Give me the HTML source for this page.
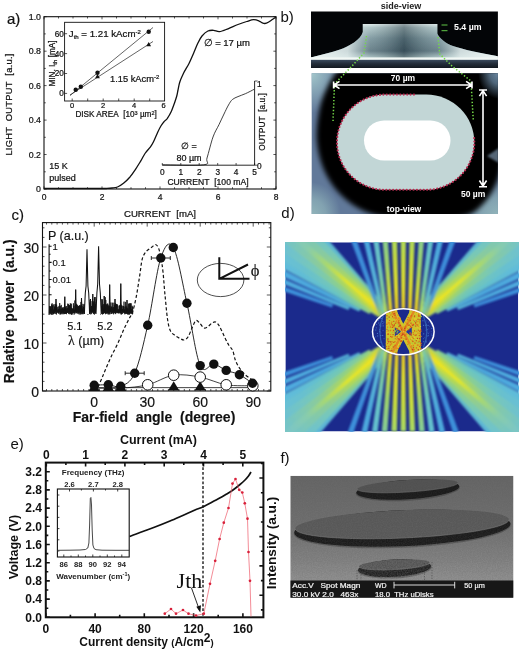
<!DOCTYPE html>
<html><head><meta charset="utf-8"><title>Figure</title>
<style>
html,body{margin:0;padding:0;background:#fff;}
body{width:520px;height:651px;overflow:hidden;}
svg{display:block;font-family:"Liberation Sans",sans-serif;filter:blur(0.35px);}
.s{font-family:"Liberation Serif",serif;}
.b{font-weight:bold;}
#pa text{stroke:#111;stroke-width:.22px;}
#pc text{stroke:#111;stroke-width:.15px;}
</style></head><body>
<svg width="520" height="651" viewBox="0 0 520 651">
<rect width="520" height="651" fill="#fff"/>
<g id="pa">
<text x="7" y="24" font-size="15" text-anchor="start" fill="#111">a)</text>
<rect x="44" y="16.7" width="232" height="172.3" fill="none" stroke="#111" stroke-width="1.1"/>
<path d="M44.0,189v-2.6M44.0,16.7v2.6M58.5,189v-1.8M58.5,16.7v1.8M73.0,189v-1.8M73.0,16.7v1.8M87.5,189v-1.8M87.5,16.7v1.8M102.0,189v-2.6M102.0,16.7v2.6M116.5,189v-1.8M116.5,16.7v1.8M131.0,189v-1.8M131.0,16.7v1.8M145.5,189v-1.8M145.5,16.7v1.8M160.0,189v-2.6M160.0,16.7v2.6M174.5,189v-1.8M174.5,16.7v1.8M189.0,189v-1.8M189.0,16.7v1.8M203.5,189v-1.8M203.5,16.7v1.8M218.0,189v-2.6M218.0,16.7v2.6M232.5,189v-1.8M232.5,16.7v1.8M247.0,189v-1.8M247.0,16.7v1.8M261.5,189v-1.8M261.5,16.7v1.8M276.0,189v-2.6M276.0,16.7v2.6M44,189.0h2.6M276,189.0h-2.6M44,171.8h1.8M276,171.8h-1.8M44,154.5h2.6M276,154.5h-2.6M44,137.3h1.8M276,137.3h-1.8M44,120.1h2.6M276,120.1h-2.6M44,102.8h1.8M276,102.8h-1.8M44,85.6h2.6M276,85.6h-2.6M44,68.4h1.8M276,68.4h-1.8M44,51.2h2.6M276,51.2h-2.6M44,33.9h1.8M276,33.9h-1.8M44,16.7h2.6M276,16.7h-2.6" stroke="#111" stroke-width="0.7" fill="none"/>
<text x="41" y="192.2" font-size="8.8" text-anchor="end" fill="#111">0</text>
<text x="41" y="157.7" font-size="8.8" text-anchor="end" fill="#111">0.2</text>
<text x="41" y="123.3" font-size="8.8" text-anchor="end" fill="#111">0.4</text>
<text x="41" y="88.8" font-size="8.8" text-anchor="end" fill="#111">0.6</text>
<text x="41" y="54.4" font-size="8.8" text-anchor="end" fill="#111">0.8</text>
<text x="41" y="19.9" font-size="8.8" text-anchor="end" fill="#111">1.0</text>
<text x="44.0" y="199.6" font-size="8.5" text-anchor="middle" fill="#111">0</text>
<text x="102.0" y="199.6" font-size="8.5" text-anchor="middle" fill="#111">2</text>
<text x="160.0" y="199.6" font-size="8.5" text-anchor="middle" fill="#111">4</text>
<text x="218.0" y="199.6" font-size="8.5" text-anchor="middle" fill="#111">6</text>
<text x="276.0" y="199.6" font-size="8.5" text-anchor="middle" fill="#111">8</text>
<text x="12.3" y="104.6" font-size="9.3" text-anchor="middle" fill="#111" transform="rotate(-90 12.3 104.6)" textLength="102" lengthAdjust="spacing">LIGHT&#160; OUTPUT&#160; [a.u.]</text>
<svg x="100" y="205" width="120" height="12.5" viewBox="100 205 120 12.5" overflow="hidden"><text x="160" y="217.3" font-size="9.6" text-anchor="middle" fill="#111">CURRENT&#160; [mA]</text>
</svg>
<path d="M44.0,188.5C53.3,188.5 89.5,188.5 100.0,188.5C110.5,188.5 105.0,188.5 107.0,188.4C109.0,188.3 110.5,188.2 112.2,188.0C114.0,187.8 115.6,187.8 117.5,187.0C119.4,186.2 121.7,184.7 123.8,183.0C125.9,181.3 128.2,179.0 130.2,176.7C132.1,174.4 133.7,171.9 135.5,169.3C137.3,166.7 139.2,163.5 140.8,160.9C142.4,158.3 143.4,155.8 145.0,153.5C146.6,151.2 148.9,149.0 150.3,147.1C151.7,145.2 152.3,144.3 153.5,141.8C154.7,139.3 156.5,134.9 157.7,132.3C158.9,129.7 159.8,127.8 160.9,126.0C162.0,124.2 162.9,122.9 164.0,121.7C165.1,120.5 166.0,120.3 167.2,118.6C168.4,116.8 170.2,113.8 171.4,111.2C172.6,108.6 173.7,105.2 174.6,102.7C175.5,100.2 176.1,98.4 176.7,96.3C177.3,94.2 177.5,92.4 178.0,90.0C178.5,87.6 178.9,84.8 179.8,82.0C180.7,79.2 181.9,76.6 183.4,73.5C184.9,70.4 187.3,66.8 189.0,63.5C190.7,60.1 192.0,56.8 193.5,53.4C195.0,50.0 196.4,46.2 197.8,43.3C199.2,40.4 200.3,38.0 202.0,36.0C203.7,34.0 206.0,31.9 207.9,31.0C209.8,30.1 211.7,30.2 213.6,30.3C215.5,30.4 217.0,31.9 219.4,31.7C221.8,31.4 224.9,30.0 228.0,28.8C231.1,27.6 234.9,25.7 238.0,24.5C241.1,23.3 244.1,22.3 246.7,21.5C249.3,20.7 251.5,19.7 253.5,19.6C255.5,19.5 257.4,20.3 258.8,20.9C260.2,21.4 261.2,22.5 262.2,22.9C263.2,23.3 263.9,23.6 264.9,23.5C265.9,23.4 267.1,22.9 268.3,22.2C269.5,21.5 271.0,20.4 272.3,19.5C273.6,18.6 275.4,17.4 276.0,17.0" fill="none" stroke="#111" stroke-width="1.3"/>
<rect x="64.6" y="22.3" width="100" height="78.7" fill="#fff" stroke="#111" stroke-width="0.9"/>
<path d="M72.2,101v-2.5M87.7,101v-2.5M103.2,101v-2.5M118.7,101v-2.5M134.2,101v-2.5M149.7,101v-2.5M64.6,93.4h2.5M64.6,73.5h2.5M64.6,53.6h2.5M64.6,33.7h2.5" stroke="#111" stroke-width="0.7" fill="none"/>
<path d="M70,95.5L153,27.5M70,95L153,41.5" stroke="#222" stroke-width="0.7" fill="none"/>
<circle cx="75.7" cy="89.7" r="2.2" fill="#111"/>
<circle cx="80.8" cy="86.7" r="2.2" fill="#111"/>
<circle cx="97.5" cy="72.7" r="2.2" fill="#111"/>
<circle cx="148.7" cy="31.7" r="2.2" fill="#111"/>
<path d="M95.1,78.3L99.9,78.3L97.5,73.9Z" fill="#111"/>
<path d="M146.29999999999998,46.3L151.1,46.3L148.7,41.9Z" fill="#111"/>
<text x="63.8" y="96.3" font-size="8.2" text-anchor="end" fill="#111">0</text>
<text x="63.8" y="76.4" font-size="8.2" text-anchor="end" fill="#111">20</text>
<text x="63.8" y="56.5" font-size="8.2" text-anchor="end" fill="#111">40</text>
<text x="63.8" y="36.6" font-size="8.2" text-anchor="end" fill="#111">60</text>
<text x="72.2" y="108.3" font-size="7.5" text-anchor="middle" fill="#111">0</text>
<text x="103.2" y="108.3" font-size="7.5" text-anchor="middle" fill="#111">2</text>
<text x="134.2" y="108.3" font-size="7.5" text-anchor="middle" fill="#111">4</text>
<text x="163.5" y="108.3" font-size="7.5" text-anchor="middle" fill="#111">6</text>
<text x="55.3" y="63.5" font-size="8.2" text-anchor="middle" fill="#111" transform="rotate(-90 55.3 63.5)">MIN. I<tspan font-size="6" dy="1.5">th</tspan><tspan dy="-1.5"> [mA]</tspan></text>
<text x="75.4" y="117" font-size="8.2" text-anchor="start" fill="#111">DISK AREA&#160; [10<tspan font-size="5.5" dy="-2.5">3</tspan><tspan dy="2.5"> µm</tspan><tspan font-size="5.5" dy="-2.5">2</tspan><tspan dy="2.5">]</tspan></text>
<text x="68.8" y="36.8" font-size="9.7" text-anchor="start" fill="#111">J<tspan font-size="6" dy="2">th</tspan><tspan dy="-2"> = 1.21 kAcm</tspan><tspan font-size="6" dy="-3">-2</tspan></text>
<text x="110" y="81.5" font-size="9.3" text-anchor="start" fill="#111">1.15 kAcm<tspan font-size="6" dy="-3">-2</tspan></text>
<text x="203.5" y="46" font-size="9.5" text-anchor="start" fill="#111">∅ = 17 µm</text>
<text x="49.3" y="168.5" font-size="9" text-anchor="start" fill="#111">15 K</text>
<text x="49.3" y="180.5" font-size="9" text-anchor="start" fill="#111">pulsed</text>
<path d="M162.3,165.2H254.6V81" stroke="#111" stroke-width="0.9" fill="none"/>
<path d="M162.3,165.2v-2.2M180.8,165.2v-2.2M199.2,165.2v-2.2M217.7,165.2v-2.2M236.1,165.2v-2.2M254.6,165.2v-2.2M254.6,81h3M254.6,165.2h3" stroke="#111" stroke-width="0.7" fill="none"/>
<text x="162.3" y="175" font-size="8.3" text-anchor="middle" fill="#111">0</text>
<text x="180.8" y="175" font-size="8.3" text-anchor="middle" fill="#111">1</text>
<text x="199.2" y="175" font-size="8.3" text-anchor="middle" fill="#111">2</text>
<text x="217.7" y="175" font-size="8.3" text-anchor="middle" fill="#111">3</text>
<text x="236.1" y="175" font-size="8.3" text-anchor="middle" fill="#111">4</text>
<text x="254.6" y="175" font-size="8.3" text-anchor="middle" fill="#111">5</text>
<text x="208" y="184.5" font-size="8.6" text-anchor="middle" fill="#111">CURRENT&#160; [100 mA]</text>
<text x="264.8" y="122" font-size="8.4" text-anchor="middle" fill="#111" transform="rotate(-90 264.8 122)">OUTPUT&#160; [a.u.]</text>
<text x="257" y="87" font-size="8.3" text-anchor="start" fill="#111">1</text>
<text x="257" y="169" font-size="8.3" text-anchor="start" fill="#111">0</text>
<text x="189" y="149" font-size="9" text-anchor="middle" fill="#111">∅ =</text>
<text x="189" y="161" font-size="9" text-anchor="middle" fill="#111">80 µm</text>
<path d="M162.3,164.8C169.2,164.8 196.4,165.9 203.8,164.8C211.2,163.7 205.5,162.6 207.0,158.0C208.5,153.4 211.0,142.6 213.0,137.0C215.0,131.4 217.2,128.4 219.0,124.6C220.8,120.8 222.4,117.3 224.0,114.0C225.6,110.7 227.1,107.4 228.5,105.0C229.9,102.6 230.8,100.9 232.4,99.5C234.0,98.1 235.8,97.6 238.0,96.6C240.2,95.6 242.7,94.9 245.4,93.7C248.1,92.5 252.6,90.1 254.0,89.4" fill="none" stroke="#111" stroke-width="0.8"/>
</g>
<g id="pb">
<defs>
<linearGradient id="bmesa" x1="0" y1="0" x2="0" y2="1"><stop offset="0" stop-color="#e4efee"/><stop offset="0.1" stop-color="#a9c0c2"/><stop offset="0.4" stop-color="#6b8790"/><stop offset="0.75" stop-color="#4a6470"/><stop offset="0.93" stop-color="#9db6b8"/><stop offset="1" stop-color="#f2f8f5"/></linearGradient>
<linearGradient id="bmesah" x1="0" y1="0" x2="1" y2="0"><stop offset="0" stop-color="#eef6f4" stop-opacity="1"/><stop offset="0.2" stop-color="#e4efee" stop-opacity="0.85"/><stop offset="0.32" stop-color="#cfe0e0" stop-opacity="0.25"/><stop offset="0.5" stop-color="#1a2a34" stop-opacity="0.4"/><stop offset="0.68" stop-color="#cfe0e0" stop-opacity="0.25"/><stop offset="0.8" stop-color="#e4efee" stop-opacity="0.85"/><stop offset="1" stop-color="#eef6f4" stop-opacity="1"/></linearGradient>
<linearGradient id="bband" x1="0" y1="0" x2="0" y2="1"><stop offset="0" stop-color="#3c4c60"/><stop offset="0.45" stop-color="#232d3a"/><stop offset="1" stop-color="#10151c"/></linearGradient>
<linearGradient id="btop" x1="0" y1="0" x2="0" y2="1"><stop offset="0" stop-color="#b9cbd0"/><stop offset="0.45" stop-color="#607985"/><stop offset="0.8" stop-color="#6f8893"/><stop offset="1" stop-color="#7d949d"/></linearGradient>
<radialGradient id="bcorner" cx="0.5" cy="0.5" r="0.5"><stop offset="0" stop-color="#a4c8cc" stop-opacity="1"/><stop offset="1" stop-color="#a4c8cc" stop-opacity="0"/></radialGradient>
<radialGradient id="bcorner3" cx="0.5" cy="0.5" r="0.5"><stop offset="0" stop-color="#6f8da6" stop-opacity="1"/><stop offset="0.45" stop-color="#5d7890" stop-opacity="0.85"/><stop offset="1" stop-color="#5d7890" stop-opacity="0"/></radialGradient>
<filter id="bl1" x="-20%" y="-20%" width="140%" height="140%"><feGaussianBlur stdDeviation="1.2"/></filter>
<radialGradient id="bcorner2" cx="0.5" cy="0.5" r="0.5"><stop offset="0" stop-color="#93b6bb" stop-opacity="1"/><stop offset="0.5" stop-color="#8aacb6" stop-opacity="0.8"/><stop offset="1" stop-color="#8aacb6" stop-opacity="0"/></radialGradient>
<filter id="bl2" x="-10%" y="-10%" width="120%" height="120%"><feGaussianBlur stdDeviation="2.6"/></filter>
<filter id="bl05" x="-10%" y="-10%" width="120%" height="120%"><feGaussianBlur stdDeviation="0.5"/></filter>
<clipPath id="bc1"><rect x="311" y="11.5" width="186.9" height="56.5"/></clipPath>
<clipPath id="bc2"><rect x="311.7" y="73.2" width="186.2" height="140.9"/></clipPath>
</defs>
<text x="280.5" y="21.8" font-size="15" text-anchor="start" fill="#111">b)</text>
<text x="401" y="9.2" font-size="9" text-anchor="middle" fill="#222" class="b">side-view</text>
<g clip-path="url(#bc1)">
<rect x="310" y="11" width="188" height="58" fill="#030507"/>
<g filter="url(#bl05)"><path d="M362.8,24H437.4V33.5C439,38 446,43.5 453,46C463,49.5 480,53 498,56.2V60H310V57.8C320,55 331,52.5 340,49.5C349,46.5 361,39.5 362.8,32Z" fill="url(#bmesa)"/><path d="M362.8,24H437.4V33.5C439,38 446,43.5 453,46C463,49.5 480,53 498,56.2V60H310V57.8C320,55 331,52.5 340,49.5C349,46.5 361,39.5 362.8,32Z" fill="url(#bmesah)"/></g>
<rect x="310" y="59.6" width="188" height="9" fill="url(#bband)"/>
<rect x="310" y="57.4" width="188" height="2.2" fill="#f2f8f5" filter="url(#bl05)"/>
<path d="M362.8,24.3H437.4" stroke="#f6fbf8" stroke-width="1.3" filter="url(#bl05)"/>
</g>
<g clip-path="url(#bc2)">
<rect x="310" y="72.6" width="189" height="143" fill="#61799a"/>
<ellipse cx="311" cy="73" rx="34" ry="40" fill="url(#bcorner)"/>
<ellipse cx="311" cy="216" rx="30" ry="34" fill="url(#bcorner2)"/>
<ellipse cx="499" cy="216" rx="40" ry="36" fill="url(#bcorner2)"/>
<path d="M316.8,140C316.1,130.0 317.9,118.5 319.5,110.0C321.1,101.5 323.2,95.8 326.5,89.0C329.8,82.2 333.4,74.7 339.0,69.0C344.6,63.3 348.2,58.5 360.0,55.0C371.8,51.5 391.7,48.5 410.0,48.0C428.3,47.5 455.0,47.5 470.0,52.0C485.0,56.5 494.0,63.7 500.0,75.0C506.0,86.3 505.5,105.8 506.0,120.0C506.5,134.2 504.8,149.0 503.0,160.0C501.2,171.0 498.5,178.5 495.0,186.0C491.5,193.5 487.0,200.0 482.0,205.0C477.0,210.0 473.7,213.3 465.0,216.0C456.3,218.7 441.7,220.5 430.0,221.0C418.3,221.5 406.0,220.7 395.0,219.0C384.0,217.3 373.2,215.2 364.0,211.0C354.8,206.8 346.7,200.8 340.0,194.0C333.3,187.2 327.9,179.0 324.0,170.0C320.1,161.0 317.6,150.0 316.8,140.0Z" fill="#020304" filter="url(#bl2)"/>
<ellipse cx="499" cy="72" rx="21" ry="27" fill="url(#bcorner3)"/>
<path d="M499,148L487,156L499,163Z" fill="#66798c" opacity="0.85" filter="url(#bl1)"/>
<rect x="337" y="94.6" width="137.3" height="95.2" rx="48" ry="47.6" fill="#c2d6d6" filter="url(#bl05)"/>
<rect x="364" y="120.5" width="86.5" height="40" rx="20" ry="20" fill="#fff" filter="url(#bl05)"/>
<path d="M414,94.6H385A48,47.6 0 0 0 385,189.8H426.3A48,47.6 0 0 0 473.8,135" fill="none" stroke="#b82c50" stroke-width="2.1" stroke-linecap="round" stroke-dasharray="0.1 3.3"/>
</g>
<path d="M366.5,36L364,53L352,66L334.5,84L333,122M438,37L439.7,54L452,66L471,81L473.3,121" stroke="#74d848" stroke-width="1.5" stroke-dasharray="1.4 1.9" fill="none"/>
<path d="M441.5,25h6M441.5,30.7h6" stroke="#62c848" stroke-width="1" fill="none"/>
<g stroke="#fff" stroke-width="1.6" fill="none"><path d="M335,85H471M334,85l5.5,-3.6M334,85l5.5,3.6M471.6,85l-5.5,-3.6M471.6,85l-5.5,3.6M333.6,81.5v7M472,81.5v7"/><path d="M483,91.5V185M483,90.6l-3.6,5.5M483,90.6l3.6,5.5M483,186l-3.6,-5.5M483,186l3.6,-5.5M479,90h8M479,186.8h8"/></g>
<text x="403" y="80.5" font-size="8.5" text-anchor="middle" fill="#fff" class="b">70 µm</text>
<text x="473.2" y="196.6" font-size="8.5" text-anchor="middle" fill="#fff" class="b">50 µm</text>
<text x="404" y="211.5" font-size="8.5" text-anchor="middle" fill="#fff" class="b">top-view</text>
<text x="454" y="30.4" font-size="8.8" text-anchor="start" fill="#fff" class="b">5.4 µm</text>
</g>
<g id="pd">
<text x="281.3" y="218.3" font-size="15" text-anchor="start" fill="#111">d)</text>
<defs>
<clipPath id="dc"><rect x="285.4" y="242.3" width="232.80000000000007" height="189.2"/></clipPath>
<radialGradient id="dgy" gradientUnits="userSpaceOnUse" cx="403.3" cy="331.8" r="150"><stop offset="0.16" stop-color="#f4c81c"/><stop offset="0.3" stop-color="#f2e41c"/><stop offset="0.5" stop-color="#dce430"/><stop offset="0.68" stop-color="#a8d870"/><stop offset="0.85" stop-color="#88ccac"/><stop offset="1" stop-color="#7cc6c4"/></radialGradient>
<radialGradient id="dgyg" gradientUnits="userSpaceOnUse" cx="403.3" cy="331.8" r="150"><stop offset="0.16" stop-color="#f0d020"/><stop offset="0.28" stop-color="#dce02c"/><stop offset="0.48" stop-color="#b0d858"/><stop offset="0.7" stop-color="#8ccc98"/><stop offset="1" stop-color="#74c4c8"/></radialGradient>
<radialGradient id="dgg" gradientUnits="userSpaceOnUse" cx="403.3" cy="331.8" r="150"><stop offset="0.16" stop-color="#e8d828"/><stop offset="0.3" stop-color="#b4d850"/><stop offset="0.5" stop-color="#8ed088"/><stop offset="0.72" stop-color="#78c8b8"/><stop offset="1" stop-color="#6cc0d4"/></radialGradient>
<radialGradient id="dgc" gradientUnits="userSpaceOnUse" cx="403.3" cy="331.8" r="150"><stop offset="0.16" stop-color="#c0dc48"/><stop offset="0.3" stop-color="#80cc98"/><stop offset="0.5" stop-color="#68c4c4"/><stop offset="0.8" stop-color="#60bcd8"/><stop offset="1" stop-color="#60bcdc"/></radialGradient>
<radialGradient id="dgc2" gradientUnits="userSpaceOnUse" cx="403.3" cy="331.8" r="150"><stop offset="0.16" stop-color="#d0dc40"/><stop offset="0.3" stop-color="#90d088"/><stop offset="0.5" stop-color="#74c8b4"/><stop offset="0.8" stop-color="#68c0d0"/><stop offset="1" stop-color="#68c0d8"/></radialGradient>
<radialGradient id="dglb" gradientUnits="userSpaceOnUse" cx="403.3" cy="331.8" r="150"><stop offset="0.2" stop-color="#78c8a8"/><stop offset="0.35" stop-color="#58b4d4"/><stop offset="0.6" stop-color="#4ca8dc"/><stop offset="1" stop-color="#52acdf"/></radialGradient>
<radialGradient id="dgb" gradientUnits="userSpaceOnUse" cx="403.3" cy="331.8" r="150"><stop offset="0.16" stop-color="#b0d050"/><stop offset="0.3" stop-color="#4c9cd0"/><stop offset="0.5" stop-color="#3c8cd8"/><stop offset="1" stop-color="#4096dc"/></radialGradient>
<radialGradient id="dgv" gradientUnits="userSpaceOnUse" cx="403.3" cy="331.8" r="150"><stop offset="0.16" stop-color="#f0cc20"/><stop offset="0.3" stop-color="#e4e028"/><stop offset="0.5" stop-color="#c4dc40"/><stop offset="0.68" stop-color="#a4d868"/><stop offset="1" stop-color="#8cd088"/></radialGradient>
<radialGradient id="dgv2" gradientUnits="userSpaceOnUse" cx="403.3" cy="331.8" r="150"><stop offset="0.16" stop-color="#f0cc20"/><stop offset="0.28" stop-color="#d0dc38"/><stop offset="0.45" stop-color="#a0d468"/><stop offset="0.68" stop-color="#84cc98"/><stop offset="1" stop-color="#78c8b8"/></radialGradient>
<filter id="dbl" x="-5%" y="-5%" width="110%" height="110%"><feGaussianBlur stdDeviation="0.8"/></filter>
<filter id="dbl2" x="-5%" y="-5%" width="110%" height="110%"><feGaussianBlur stdDeviation="0.5"/></filter>
</defs>
<g clip-path="url(#dc)">
<rect x="285.4" y="242.3" width="232.80000000000007" height="189.2" fill="#1b2a8c"/>
<g filter="url(#dbl)">
<polygon points="332.0,307.5 209.7,266.5 211.9,260.1 333.0,304.6" fill="url(#dgb)" opacity="1"/>
<polygon points="348.5,309.9 213.7,256.5 216.6,249.5 349.6,307.3" fill="url(#dglb)" opacity="1"/>
<polygon points="359.2,311.4 218.2,246.9 222.2,238.7 360.3,309.1" fill="url(#dglb)" opacity="1"/>
<polygon points="369.5,314.0 223.3,237.5 228.6,227.9 370.7,311.9" fill="url(#dgc)" opacity="1"/>
<polygon points="379.5,317.6 228.2,229.5 235.6,217.6 380.6,315.9" fill="url(#dgc2)" opacity="1"/>
<polygon points="380.8,316.5 234.4,220.3 242.9,208.4 381.9,314.9" fill="url(#dgg)" opacity="1"/>
<polygon points="382.1,315.5 241.7,210.8 250.1,200.3 383.3,313.9" fill="url(#dgyg)" opacity="1"/>
<polygon points="383.5,314.6 248.6,202.9 256.7,193.7 384.8,313.0" fill="url(#dgy)" opacity="1"/>
<polygon points="384.9,313.7 255.0,196.3 264.3,186.7 386.3,312.2" fill="url(#dgyg)" opacity="1"/>
<polygon points="386.5,312.9 262.5,189.2 271.4,180.8 387.9,311.5" fill="url(#dgg)" opacity="1"/>
<polygon points="381.4,304.7 270.7,182.4 275.3,178.3 383.0,303.3" fill="url(#dgc)" opacity="0.95"/>
<polygon points="333.0,359.0 211.9,403.5 209.7,397.1 332.0,356.1" fill="url(#dgb)" opacity="1"/>
<polygon points="349.6,356.3 216.6,414.1 213.7,407.1 348.5,353.7" fill="url(#dglb)" opacity="1"/>
<polygon points="360.3,354.5 222.2,424.9 218.2,416.7 359.2,352.2" fill="url(#dglb)" opacity="1"/>
<polygon points="370.7,351.7 228.6,435.7 223.3,426.1 369.5,349.6" fill="url(#dgc)" opacity="1"/>
<polygon points="380.6,347.7 235.6,446.0 228.2,434.1 379.5,346.0" fill="url(#dgc2)" opacity="1"/>
<polygon points="381.9,348.7 242.9,455.2 234.4,443.3 380.8,347.1" fill="url(#dgg)" opacity="1"/>
<polygon points="383.3,349.7 250.1,463.3 241.7,452.8 382.1,348.1" fill="url(#dgyg)" opacity="1"/>
<polygon points="384.8,350.6 256.7,469.9 248.6,460.7 383.5,349.0" fill="url(#dgy)" opacity="1"/>
<polygon points="386.3,351.4 264.3,476.9 255.0,467.3 384.9,349.9" fill="url(#dgyg)" opacity="1"/>
<polygon points="387.9,352.1 271.4,482.8 262.5,474.4 386.5,350.7" fill="url(#dgg)" opacity="1"/>
<polygon points="383.0,360.3 275.3,485.3 270.7,481.2 381.4,358.9" fill="url(#dgc)" opacity="0.95"/>
<polygon points="473.6,304.6 594.7,260.1 596.9,266.5 474.6,307.5" fill="url(#dgb)" opacity="1"/>
<polygon points="457.0,307.3 590.0,249.5 592.9,256.5 458.1,309.9" fill="url(#dglb)" opacity="1"/>
<polygon points="446.3,309.1 584.4,238.7 588.4,246.9 447.4,311.4" fill="url(#dglb)" opacity="1"/>
<polygon points="435.9,311.9 578.0,227.9 583.3,237.5 437.1,314.0" fill="url(#dgc)" opacity="1"/>
<polygon points="426.0,315.9 571.0,217.6 578.4,229.5 427.1,317.6" fill="url(#dgc2)" opacity="1"/>
<polygon points="424.7,314.9 563.7,208.4 572.2,220.3 425.8,316.5" fill="url(#dgg)" opacity="1"/>
<polygon points="423.3,313.9 556.5,200.3 564.9,210.8 424.5,315.5" fill="url(#dgyg)" opacity="1"/>
<polygon points="421.8,313.0 549.9,193.7 558.0,202.9 423.1,314.6" fill="url(#dgy)" opacity="1"/>
<polygon points="420.3,312.2 542.3,186.7 551.6,196.3 421.7,313.7" fill="url(#dgyg)" opacity="1"/>
<polygon points="418.7,311.5 535.2,180.8 544.1,189.2 420.1,312.9" fill="url(#dgg)" opacity="1"/>
<polygon points="423.6,303.3 531.3,178.3 535.9,182.4 425.2,304.7" fill="url(#dgc)" opacity="0.95"/>
<polygon points="474.6,356.1 596.9,397.1 594.7,403.5 473.6,359.0" fill="url(#dgb)" opacity="1"/>
<polygon points="458.1,353.7 592.9,407.1 590.0,414.1 457.0,356.3" fill="url(#dglb)" opacity="1"/>
<polygon points="447.4,352.2 588.4,416.7 584.4,424.9 446.3,354.5" fill="url(#dglb)" opacity="1"/>
<polygon points="437.1,349.6 583.3,426.1 578.0,435.7 435.9,351.7" fill="url(#dgc)" opacity="1"/>
<polygon points="427.1,346.0 578.4,434.1 571.0,446.0 426.0,347.7" fill="url(#dgc2)" opacity="1"/>
<polygon points="425.8,347.1 572.2,443.3 563.7,455.2 424.7,348.7" fill="url(#dgg)" opacity="1"/>
<polygon points="424.5,348.1 564.9,452.8 556.5,463.3 423.3,349.7" fill="url(#dgyg)" opacity="1"/>
<polygon points="423.1,349.0 558.0,460.7 549.9,469.9 421.8,350.6" fill="url(#dgy)" opacity="1"/>
<polygon points="421.7,349.9 551.6,467.3 542.3,476.9 420.3,351.4" fill="url(#dgyg)" opacity="1"/>
<polygon points="420.1,350.7 544.1,474.4 535.2,482.8 418.7,352.1" fill="url(#dgg)" opacity="1"/>
<polygon points="425.2,358.9 535.9,481.2 531.3,485.3 423.6,360.3" fill="url(#dgc)" opacity="0.95"/>
<polygon points="401.5,308.8 400.5,232.3 406.1,232.3 405.1,308.8" fill="url(#dgv)" opacity="1"/>
<polygon points="394.9,309.4 391.4,232.3 397.0,232.2 398.5,309.3" fill="url(#dgv)" opacity="1"/>
<polygon points="408.1,309.3 409.6,232.2 415.2,232.3 411.7,309.4" fill="url(#dgv)" opacity="1"/>
<polygon points="388.8,311.0 381.8,232.2 387.4,231.8 392.4,310.7" fill="url(#dgv2)" opacity="1"/>
<polygon points="414.2,310.7 419.2,231.8 424.8,232.2 417.8,311.0" fill="url(#dgv2)" opacity="1"/>
<polygon points="384.2,313.0 372.0,232.1 377.5,231.3 387.8,312.5" fill="url(#dgc)" opacity="1"/>
<polygon points="418.8,312.5 429.1,231.3 434.6,232.1 422.4,313.0" fill="url(#dgc)" opacity="1"/>
<polygon points="381.2,314.9 361.6,232.1 367.1,230.9 384.8,314.1" fill="url(#dglb)" opacity="1"/>
<polygon points="421.8,314.1 439.5,230.9 445.0,232.1 425.4,314.9" fill="url(#dglb)" opacity="1"/>
<polygon points="379.3,316.5 347.9,232.2 353.2,230.3 382.7,315.3" fill="url(#dgb)" opacity="1"/>
<polygon points="423.9,315.3 453.4,230.3 458.7,232.2 427.3,316.5" fill="url(#dgb)" opacity="1"/>
<polygon points="405.1,354.8 406.1,431.3 400.5,431.3 401.5,354.8" fill="url(#dgv)" opacity="1"/>
<polygon points="398.5,354.3 397.0,431.4 391.4,431.3 394.9,354.2" fill="url(#dgv)" opacity="1"/>
<polygon points="411.7,354.2 415.2,431.3 409.6,431.4 408.1,354.3" fill="url(#dgv)" opacity="1"/>
<polygon points="392.4,352.9 387.4,431.8 381.8,431.4 388.8,352.6" fill="url(#dgv2)" opacity="1"/>
<polygon points="417.8,352.6 424.8,431.4 419.2,431.8 414.2,352.9" fill="url(#dgv2)" opacity="1"/>
<polygon points="387.8,351.1 377.5,432.3 372.0,431.5 384.2,350.6" fill="url(#dgc)" opacity="1"/>
<polygon points="422.4,350.6 434.6,431.5 429.1,432.3 418.8,351.1" fill="url(#dgc)" opacity="1"/>
<polygon points="384.8,349.5 367.1,432.7 361.6,431.5 381.2,348.7" fill="url(#dglb)" opacity="1"/>
<polygon points="425.4,348.7 445.0,431.5 439.5,432.7 421.8,349.5" fill="url(#dglb)" opacity="1"/>
<polygon points="382.7,348.3 353.2,433.3 347.9,431.4 379.3,347.1" fill="url(#dgb)" opacity="1"/>
<polygon points="427.3,347.1 458.7,431.4 453.4,433.3 423.9,348.3" fill="url(#dgb)" opacity="1"/>
</g>
<clipPath id="dce"><ellipse cx="403.3" cy="331.8" rx="30.8" ry="23.0"/></clipPath>
<g clip-path="url(#dce)">
<ellipse cx="403.3" cy="331.8" rx="30.8" ry="23.0" fill="#1b2a8c"/>
<g filter="url(#dbl2)">
<path d="M383.3,315.8Q376.3,331.8 383.3,347.8M423.3,315.8Q430.3,331.8 423.3,347.8" stroke="#3a78c0" stroke-width="1.2" fill="none" opacity="0.7"/>
<rect x="385.8" y="306.8" width="11.5" height="50" fill="#cfc42c"/><rect x="409.3" y="306.8" width="11.5" height="50" fill="#cfc42c"/>
<path d="M392.3,310.8L414.3,352.8M414.3,310.8L392.3,352.8" stroke="#cfc42c" stroke-width="7.5"/>
<path d="M392.3,310.8L414.3,352.8M414.3,310.8L392.3,352.8" stroke="#e08a20" stroke-width="2.4"/>
<path d="M401.1,331.8L394.8,327.3V336.3ZM405.5,331.8L411.8,327.3V336.3Z" fill="#2438a0"/>
</g>
<g opacity="0.9"><rect x="393.3" y="333.8" width="1.2" height="1.2" fill="#9cc848"/><rect x="419.1" y="330.6" width="1.2" height="1.2" fill="#d04818"/><rect x="402.1" y="334.1" width="1.2" height="1.2" fill="#d85418"/><rect x="416.1" y="330.7" width="1.2" height="1.2" fill="#e88020"/><rect x="393.1" y="315.8" width="1.2" height="1.2" fill="#e8d030"/><rect x="413.8" y="316.1" width="1.2" height="1.2" fill="#e06018"/><rect x="395.7" y="310.2" width="1.2" height="1.2" fill="#e8b028"/><rect x="417.7" y="341.6" width="1.2" height="1.2" fill="#e07018"/><rect x="399.3" y="345.6" width="1.2" height="1.2" fill="#c03c20"/><rect x="409.8" y="344.6" width="1.2" height="1.2" fill="#e8b028"/><rect x="406.1" y="333.4" width="1.2" height="1.2" fill="#e07018"/><rect x="410.2" y="351.5" width="1.2" height="1.2" fill="#e8b028"/><rect x="390.5" y="348.4" width="1.2" height="1.2" fill="#e8d030"/><rect x="418.7" y="335.0" width="1.2" height="1.2" fill="#d85418"/><rect x="394.4" y="314.5" width="1.2" height="1.2" fill="#c03c20"/><rect x="416.7" y="354.3" width="1.2" height="1.2" fill="#d04818"/><rect x="418.4" y="309.7" width="1.2" height="1.2" fill="#e07018"/><rect x="413.5" y="348.9" width="1.2" height="1.2" fill="#e06018"/><rect x="407.3" y="343.8" width="1.2" height="1.2" fill="#e07018"/><rect x="411.6" y="324.0" width="1.2" height="1.2" fill="#e8b028"/><rect x="396.1" y="312.3" width="1.2" height="1.2" fill="#e8d030"/><rect x="399.8" y="336.9" width="1.2" height="1.2" fill="#e88020"/><rect x="410.5" y="353.9" width="1.2" height="1.2" fill="#9cc848"/><rect x="396.2" y="352.9" width="1.2" height="1.2" fill="#e07018"/><rect x="410.2" y="313.5" width="1.2" height="1.2" fill="#e8d030"/><rect x="394.6" y="338.0" width="1.2" height="1.2" fill="#d85418"/><rect x="419.9" y="328.9" width="1.2" height="1.2" fill="#e8b028"/><rect x="404.1" y="334.0" width="1.2" height="1.2" fill="#e06018"/><rect x="414.3" y="354.2" width="1.2" height="1.2" fill="#9cc848"/><rect x="410.1" y="325.0" width="1.2" height="1.2" fill="#e8b028"/><rect x="412.3" y="309.8" width="1.2" height="1.2" fill="#e06018"/><rect x="420.6" y="309.8" width="1.2" height="1.2" fill="#9cc848"/><rect x="393.8" y="329.8" width="1.2" height="1.2" fill="#9cc848"/><rect x="391.0" y="317.3" width="1.2" height="1.2" fill="#9cc848"/><rect x="416.4" y="321.0" width="1.2" height="1.2" fill="#e07018"/><rect x="388.3" y="346.2" width="1.2" height="1.2" fill="#e88020"/><rect x="396.1" y="319.0" width="1.2" height="1.2" fill="#e8b028"/><rect x="393.4" y="317.4" width="1.2" height="1.2" fill="#e07018"/><rect x="409.9" y="319.1" width="1.2" height="1.2" fill="#e88020"/><rect x="387.3" y="342.9" width="1.2" height="1.2" fill="#d85418"/><rect x="417.9" y="329.6" width="1.2" height="1.2" fill="#d85418"/><rect x="414.2" y="310.4" width="1.2" height="1.2" fill="#d85418"/><rect x="396.3" y="347.3" width="1.2" height="1.2" fill="#e88020"/><rect x="417.1" y="324.4" width="1.2" height="1.2" fill="#d04818"/><rect x="414.9" y="324.7" width="1.2" height="1.2" fill="#e88020"/><rect x="400.3" y="332.6" width="1.2" height="1.2" fill="#e8b028"/><rect x="402.0" y="338.0" width="1.2" height="1.2" fill="#e8b028"/><rect x="400.3" y="327.6" width="1.2" height="1.2" fill="#e07018"/><rect x="390.2" y="309.0" width="1.2" height="1.2" fill="#e8d030"/><rect x="419.5" y="319.0" width="1.2" height="1.2" fill="#c03c20"/><rect x="416.1" y="339.3" width="1.2" height="1.2" fill="#e8d030"/><rect x="418.1" y="348.4" width="1.2" height="1.2" fill="#e8b028"/><rect x="388.9" y="320.0" width="1.2" height="1.2" fill="#e06018"/><rect x="418.6" y="340.7" width="1.2" height="1.2" fill="#d85418"/><rect x="418.4" y="350.2" width="1.2" height="1.2" fill="#e06018"/><rect x="390.8" y="322.6" width="1.2" height="1.2" fill="#e06018"/><rect x="404.2" y="327.8" width="1.2" height="1.2" fill="#d04818"/><rect x="397.3" y="320.4" width="1.2" height="1.2" fill="#e8d030"/><rect x="397.7" y="317.9" width="1.2" height="1.2" fill="#e8d030"/><rect x="418.0" y="314.3" width="1.2" height="1.2" fill="#d85418"/><rect x="414.4" y="351.2" width="1.2" height="1.2" fill="#e88020"/><rect x="415.6" y="309.1" width="1.2" height="1.2" fill="#e07018"/><rect x="386.2" y="321.3" width="1.2" height="1.2" fill="#e8b028"/><rect x="386.2" y="323.7" width="1.2" height="1.2" fill="#e06018"/><rect x="416.9" y="344.5" width="1.2" height="1.2" fill="#e06018"/><rect x="389.0" y="311.9" width="1.2" height="1.2" fill="#e06018"/><rect x="416.8" y="312.8" width="1.2" height="1.2" fill="#e8d030"/><rect x="387.0" y="326.5" width="1.2" height="1.2" fill="#e07018"/><rect x="406.6" y="325.4" width="1.2" height="1.2" fill="#d85418"/><rect x="389.1" y="309.0" width="1.2" height="1.2" fill="#e07018"/><rect x="414.5" y="334.9" width="1.2" height="1.2" fill="#e06018"/><rect x="398.5" y="336.6" width="1.2" height="1.2" fill="#e8d030"/><rect x="398.8" y="345.7" width="1.2" height="1.2" fill="#e07018"/><rect x="386.3" y="337.7" width="1.2" height="1.2" fill="#9cc848"/><rect x="400.3" y="340.7" width="1.2" height="1.2" fill="#c03c20"/><rect x="394.6" y="335.9" width="1.2" height="1.2" fill="#e07018"/><rect x="392.8" y="314.8" width="1.2" height="1.2" fill="#e06018"/><rect x="419.9" y="326.0" width="1.2" height="1.2" fill="#e8d030"/><rect x="414.4" y="320.9" width="1.2" height="1.2" fill="#c03c20"/><rect x="410.5" y="352.0" width="1.2" height="1.2" fill="#e8d030"/><rect x="414.4" y="339.5" width="1.2" height="1.2" fill="#9cc848"/><rect x="389.8" y="344.4" width="1.2" height="1.2" fill="#e06018"/><rect x="404.3" y="334.8" width="1.2" height="1.2" fill="#e07018"/><rect x="391.1" y="309.9" width="1.2" height="1.2" fill="#d04818"/><rect x="395.1" y="322.6" width="1.2" height="1.2" fill="#d04818"/><rect x="388.4" y="343.3" width="1.2" height="1.2" fill="#e8d030"/><rect x="386.6" y="323.7" width="1.2" height="1.2" fill="#e88020"/><rect x="415.8" y="319.9" width="1.2" height="1.2" fill="#e88020"/><rect x="410.9" y="352.2" width="1.2" height="1.2" fill="#e8b028"/><rect x="398.3" y="327.0" width="1.2" height="1.2" fill="#9cc848"/><rect x="398.6" y="319.6" width="1.2" height="1.2" fill="#e07018"/><rect x="416.4" y="353.3" width="1.2" height="1.2" fill="#e07018"/><rect x="410.6" y="343.6" width="1.2" height="1.2" fill="#e8d030"/><rect x="410.4" y="316.0" width="1.2" height="1.2" fill="#e07018"/><rect x="418.4" y="315.7" width="1.2" height="1.2" fill="#d04818"/><rect x="403.2" y="331.0" width="1.2" height="1.2" fill="#e8d030"/><rect x="420.4" y="335.8" width="1.2" height="1.2" fill="#e88020"/><rect x="389.5" y="343.4" width="1.2" height="1.2" fill="#e88020"/><rect x="406.6" y="323.3" width="1.2" height="1.2" fill="#d85418"/><rect x="416.7" y="333.5" width="1.2" height="1.2" fill="#e8b028"/><rect x="409.8" y="348.1" width="1.2" height="1.2" fill="#e8b028"/><rect x="418.1" y="322.9" width="1.2" height="1.2" fill="#e8b028"/><rect x="402.5" y="326.4" width="1.2" height="1.2" fill="#e88020"/><rect x="400.2" y="340.9" width="1.2" height="1.2" fill="#d85418"/><rect x="415.5" y="334.4" width="1.2" height="1.2" fill="#c03c20"/><rect x="420.3" y="344.8" width="1.2" height="1.2" fill="#e06018"/><rect x="393.2" y="341.8" width="1.2" height="1.2" fill="#d04818"/><rect x="420.7" y="348.1" width="1.2" height="1.2" fill="#d85418"/><rect x="418.1" y="344.5" width="1.2" height="1.2" fill="#e88020"/><rect x="391.4" y="341.2" width="1.2" height="1.2" fill="#e06018"/><rect x="418.5" y="320.5" width="1.2" height="1.2" fill="#e06018"/><rect x="396.2" y="328.3" width="1.2" height="1.2" fill="#d04818"/><rect x="388.8" y="321.0" width="1.2" height="1.2" fill="#e8b028"/><rect x="412.2" y="324.3" width="1.2" height="1.2" fill="#e06018"/><rect x="397.0" y="328.9" width="1.2" height="1.2" fill="#c03c20"/><rect x="387.3" y="338.4" width="1.2" height="1.2" fill="#c03c20"/><rect x="399.2" y="333.8" width="1.2" height="1.2" fill="#d04818"/><rect x="417.9" y="312.3" width="1.2" height="1.2" fill="#e07018"/><rect x="388.6" y="349.6" width="1.2" height="1.2" fill="#e8b028"/><rect x="388.0" y="352.1" width="1.2" height="1.2" fill="#9cc848"/><rect x="410.1" y="325.7" width="1.2" height="1.2" fill="#c03c20"/><rect x="395.5" y="339.9" width="1.2" height="1.2" fill="#e8b028"/><rect x="388.4" y="352.2" width="1.2" height="1.2" fill="#9cc848"/><rect x="409.9" y="333.5" width="1.2" height="1.2" fill="#d04818"/><rect x="409.6" y="332.2" width="1.2" height="1.2" fill="#e06018"/><rect x="411.6" y="340.0" width="1.2" height="1.2" fill="#e88020"/><rect x="408.8" y="342.4" width="1.2" height="1.2" fill="#e88020"/><rect x="391.1" y="349.7" width="1.2" height="1.2" fill="#c03c20"/><rect x="389.0" y="351.7" width="1.2" height="1.2" fill="#e88020"/><rect x="419.3" y="338.5" width="1.2" height="1.2" fill="#e07018"/><rect x="405.4" y="338.6" width="1.2" height="1.2" fill="#c03c20"/><rect x="411.1" y="313.7" width="1.2" height="1.2" fill="#e88020"/><rect x="413.0" y="333.8" width="1.2" height="1.2" fill="#e07018"/><rect x="398.0" y="321.0" width="1.2" height="1.2" fill="#e07018"/><rect x="386.3" y="315.1" width="1.2" height="1.2" fill="#c03c20"/><rect x="413.5" y="325.1" width="1.2" height="1.2" fill="#9cc848"/><rect x="420.2" y="329.4" width="1.2" height="1.2" fill="#d04818"/><rect x="397.7" y="347.8" width="1.2" height="1.2" fill="#d04818"/><rect x="390.1" y="335.9" width="1.2" height="1.2" fill="#d04818"/><rect x="388.6" y="340.9" width="1.2" height="1.2" fill="#e07018"/><rect x="409.8" y="326.8" width="1.2" height="1.2" fill="#e88020"/><rect x="399.4" y="317.7" width="1.2" height="1.2" fill="#e8d030"/><rect x="390.8" y="317.0" width="1.2" height="1.2" fill="#e8b028"/><rect x="398.3" y="322.3" width="1.2" height="1.2" fill="#c03c20"/><rect x="418.2" y="352.5" width="1.2" height="1.2" fill="#e07018"/><rect x="396.3" y="350.5" width="1.2" height="1.2" fill="#e8b028"/><rect x="410.4" y="322.6" width="1.2" height="1.2" fill="#c03c20"/><rect x="413.0" y="319.6" width="1.2" height="1.2" fill="#e88020"/><rect x="404.2" y="330.0" width="1.2" height="1.2" fill="#d85418"/><rect x="414.0" y="318.5" width="1.2" height="1.2" fill="#e8d030"/><rect x="419.5" y="352.3" width="1.2" height="1.2" fill="#d04818"/><rect x="418.2" y="315.0" width="1.2" height="1.2" fill="#d04818"/><rect x="398.0" y="319.5" width="1.2" height="1.2" fill="#d04818"/><rect x="397.2" y="323.9" width="1.2" height="1.2" fill="#9cc848"/><rect x="410.7" y="315.0" width="1.2" height="1.2" fill="#e06018"/><rect x="411.5" y="342.8" width="1.2" height="1.2" fill="#9cc848"/><rect x="386.7" y="318.0" width="1.2" height="1.2" fill="#d85418"/><rect x="385.9" y="312.4" width="1.2" height="1.2" fill="#d85418"/><rect x="411.1" y="326.8" width="1.2" height="1.2" fill="#c03c20"/><rect x="410.9" y="333.5" width="1.2" height="1.2" fill="#e07018"/><rect x="392.2" y="331.3" width="1.2" height="1.2" fill="#e06018"/><rect x="418.5" y="341.9" width="1.2" height="1.2" fill="#9cc848"/><rect x="416.6" y="329.4" width="1.2" height="1.2" fill="#9cc848"/><rect x="407.0" y="319.1" width="1.2" height="1.2" fill="#e06018"/><rect x="414.9" y="320.7" width="1.2" height="1.2" fill="#9cc848"/><rect x="389.8" y="330.0" width="1.2" height="1.2" fill="#d85418"/><rect x="390.3" y="309.8" width="1.2" height="1.2" fill="#e07018"/><rect x="403.4" y="338.1" width="1.2" height="1.2" fill="#e88020"/><rect x="388.5" y="316.5" width="1.2" height="1.2" fill="#c03c20"/><rect x="391.3" y="347.5" width="1.2" height="1.2" fill="#e07018"/><rect x="401.3" y="327.6" width="1.2" height="1.2" fill="#e06018"/><rect x="393.4" y="310.6" width="1.2" height="1.2" fill="#c03c20"/><rect x="392.6" y="313.1" width="1.2" height="1.2" fill="#c03c20"/><rect x="391.5" y="324.1" width="1.2" height="1.2" fill="#d04818"/><rect x="397.5" y="314.5" width="1.2" height="1.2" fill="#e06018"/><rect x="415.0" y="322.2" width="1.2" height="1.2" fill="#c03c20"/><rect x="414.3" y="353.0" width="1.2" height="1.2" fill="#c03c20"/><rect x="393.8" y="321.0" width="1.2" height="1.2" fill="#9cc848"/><rect x="408.2" y="324.7" width="1.2" height="1.2" fill="#d04818"/><rect x="386.5" y="328.8" width="1.2" height="1.2" fill="#d04818"/><rect x="390.8" y="310.5" width="1.2" height="1.2" fill="#e06018"/><rect x="391.5" y="332.2" width="1.2" height="1.2" fill="#9cc848"/><rect x="391.9" y="353.6" width="1.2" height="1.2" fill="#c03c20"/><rect x="397.2" y="330.8" width="1.2" height="1.2" fill="#9cc848"/><rect x="420.0" y="310.4" width="1.2" height="1.2" fill="#e8b028"/><rect x="412.9" y="337.8" width="1.2" height="1.2" fill="#e07018"/><rect x="387.6" y="322.3" width="1.2" height="1.2" fill="#e07018"/><rect x="388.7" y="326.7" width="1.2" height="1.2" fill="#9cc848"/><rect x="417.2" y="326.5" width="1.2" height="1.2" fill="#e8d030"/><rect x="398.0" y="317.3" width="1.2" height="1.2" fill="#e07018"/><rect x="401.0" y="329.2" width="1.2" height="1.2" fill="#c03c20"/><rect x="397.4" y="346.6" width="1.2" height="1.2" fill="#e8d030"/><rect x="411.7" y="336.7" width="1.2" height="1.2" fill="#e07018"/><rect x="420.4" y="310.8" width="1.2" height="1.2" fill="#e88020"/><rect x="411.3" y="309.9" width="1.2" height="1.2" fill="#c03c20"/><rect x="387.8" y="340.6" width="1.2" height="1.2" fill="#d04818"/><rect x="396.5" y="336.4" width="1.2" height="1.2" fill="#e06018"/><rect x="417.7" y="348.9" width="1.2" height="1.2" fill="#c03c20"/><rect x="414.2" y="350.9" width="1.2" height="1.2" fill="#9cc848"/><rect x="387.4" y="338.7" width="1.2" height="1.2" fill="#d85418"/><rect x="410.5" y="353.8" width="1.2" height="1.2" fill="#e88020"/><rect x="393.0" y="353.3" width="1.2" height="1.2" fill="#d85418"/><rect x="416.6" y="332.5" width="1.2" height="1.2" fill="#e8d030"/><rect x="414.0" y="336.6" width="1.2" height="1.2" fill="#e8d030"/><rect x="414.0" y="330.3" width="1.2" height="1.2" fill="#d04818"/><rect x="385.9" y="345.9" width="1.2" height="1.2" fill="#e06018"/><rect x="416.9" y="313.5" width="1.2" height="1.2" fill="#e8b028"/><rect x="387.6" y="330.2" width="1.2" height="1.2" fill="#d85418"/><rect x="415.7" y="340.1" width="1.2" height="1.2" fill="#d04818"/><rect x="408.7" y="343.8" width="1.2" height="1.2" fill="#9cc848"/><rect x="399.6" y="339.2" width="1.2" height="1.2" fill="#d04818"/><rect x="395.4" y="352.3" width="1.2" height="1.2" fill="#c03c20"/><rect x="415.3" y="318.3" width="1.2" height="1.2" fill="#e8d030"/><rect x="408.7" y="324.5" width="1.2" height="1.2" fill="#d85418"/><rect x="400.4" y="338.6" width="1.2" height="1.2" fill="#e8d030"/><rect x="392.4" y="324.9" width="1.2" height="1.2" fill="#e06018"/><rect x="397.0" y="328.6" width="1.2" height="1.2" fill="#d04818"/><rect x="393.8" y="323.7" width="1.2" height="1.2" fill="#d85418"/><rect x="411.9" y="349.0" width="1.2" height="1.2" fill="#c03c20"/><rect x="419.7" y="333.4" width="1.2" height="1.2" fill="#e07018"/><rect x="398.3" y="317.6" width="1.2" height="1.2" fill="#e07018"/><rect x="419.3" y="322.2" width="1.2" height="1.2" fill="#e06018"/><rect x="391.3" y="313.2" width="1.2" height="1.2" fill="#e88020"/><rect x="395.5" y="332.7" width="1.2" height="1.2" fill="#c03c20"/><rect x="385.8" y="343.1" width="1.2" height="1.2" fill="#e8b028"/><rect x="414.0" y="315.4" width="1.2" height="1.2" fill="#c03c20"/><rect x="395.7" y="327.7" width="1.2" height="1.2" fill="#d04818"/><rect x="392.1" y="331.2" width="1.2" height="1.2" fill="#e8b028"/><rect x="417.6" y="325.9" width="1.2" height="1.2" fill="#e88020"/><rect x="392.8" y="352.8" width="1.2" height="1.2" fill="#e8b028"/><rect x="395.1" y="330.1" width="1.2" height="1.2" fill="#9cc848"/><rect x="415.0" y="322.5" width="1.2" height="1.2" fill="#d85418"/><rect x="419.6" y="332.7" width="1.2" height="1.2" fill="#e06018"/><rect x="389.3" y="333.2" width="1.2" height="1.2" fill="#e8d030"/><rect x="414.4" y="325.1" width="1.2" height="1.2" fill="#9cc848"/><rect x="391.3" y="309.4" width="1.2" height="1.2" fill="#e07018"/><rect x="418.7" y="347.2" width="1.2" height="1.2" fill="#e8d030"/><rect x="415.1" y="329.5" width="1.2" height="1.2" fill="#e8b028"/><rect x="393.7" y="345.7" width="1.2" height="1.2" fill="#e07018"/><rect x="411.8" y="324.4" width="1.2" height="1.2" fill="#e06018"/><rect x="400.6" y="337.7" width="1.2" height="1.2" fill="#e88020"/><rect x="419.0" y="346.0" width="1.2" height="1.2" fill="#d85418"/><rect x="420.5" y="343.0" width="1.2" height="1.2" fill="#e07018"/><rect x="405.3" y="321.7" width="1.2" height="1.2" fill="#e88020"/><rect x="386.0" y="331.1" width="1.2" height="1.2" fill="#e06018"/><rect x="418.4" y="350.5" width="1.2" height="1.2" fill="#c03c20"/><rect x="417.0" y="353.8" width="1.2" height="1.2" fill="#e8d030"/><rect x="400.0" y="332.6" width="1.2" height="1.2" fill="#e88020"/><rect x="395.5" y="312.2" width="1.2" height="1.2" fill="#e88020"/><rect x="399.8" y="325.0" width="1.2" height="1.2" fill="#c03c20"/><rect x="394.9" y="320.6" width="1.2" height="1.2" fill="#e8b028"/><rect x="420.8" y="315.9" width="1.2" height="1.2" fill="#9cc848"/><rect x="389.6" y="310.5" width="1.2" height="1.2" fill="#c03c20"/><rect x="416.6" y="346.9" width="1.2" height="1.2" fill="#e8b028"/><rect x="405.2" y="331.2" width="1.2" height="1.2" fill="#e8b028"/><rect x="414.1" y="343.5" width="1.2" height="1.2" fill="#e8b028"/><rect x="388.2" y="339.6" width="1.2" height="1.2" fill="#9cc848"/><rect x="412.9" y="346.8" width="1.2" height="1.2" fill="#c03c20"/><rect x="391.7" y="351.2" width="1.2" height="1.2" fill="#e88020"/><rect x="392.4" y="310.5" width="1.2" height="1.2" fill="#9cc848"/><rect x="396.4" y="326.9" width="1.2" height="1.2" fill="#e8b028"/><rect x="412.3" y="340.9" width="1.2" height="1.2" fill="#d04818"/><rect x="412.5" y="347.4" width="1.2" height="1.2" fill="#e06018"/><rect x="420.1" y="353.6" width="1.2" height="1.2" fill="#d04818"/><rect x="390.0" y="341.3" width="1.2" height="1.2" fill="#c03c20"/><rect x="409.9" y="338.6" width="1.2" height="1.2" fill="#e88020"/><rect x="399.2" y="317.1" width="1.2" height="1.2" fill="#e88020"/><rect x="396.1" y="338.6" width="1.2" height="1.2" fill="#e88020"/><rect x="417.5" y="311.0" width="1.2" height="1.2" fill="#e88020"/><rect x="404.6" y="326.4" width="1.2" height="1.2" fill="#d04818"/><rect x="388.7" y="322.4" width="1.2" height="1.2" fill="#e07018"/><rect x="387.2" y="317.6" width="1.2" height="1.2" fill="#9cc848"/><rect x="393.6" y="325.1" width="1.2" height="1.2" fill="#c03c20"/><rect x="388.2" y="347.8" width="1.2" height="1.2" fill="#c03c20"/><rect x="412.7" y="344.8" width="1.2" height="1.2" fill="#e07018"/><rect x="401.9" y="333.6" width="1.2" height="1.2" fill="#c03c20"/><rect x="390.0" y="329.8" width="1.2" height="1.2" fill="#e07018"/><rect x="391.9" y="336.1" width="1.2" height="1.2" fill="#e88020"/><rect x="395.7" y="348.3" width="1.2" height="1.2" fill="#e88020"/><rect x="396.3" y="347.4" width="1.2" height="1.2" fill="#e88020"/><rect x="386.3" y="353.8" width="1.2" height="1.2" fill="#e07018"/><rect x="407.6" y="317.0" width="1.2" height="1.2" fill="#e06018"/><rect x="390.3" y="314.4" width="1.2" height="1.2" fill="#e07018"/><rect x="387.8" y="333.7" width="1.2" height="1.2" fill="#c03c20"/><rect x="396.7" y="336.0" width="1.2" height="1.2" fill="#d85418"/><rect x="396.6" y="332.1" width="1.2" height="1.2" fill="#9cc848"/><rect x="408.5" y="336.0" width="1.2" height="1.2" fill="#9cc848"/><rect x="417.1" y="347.2" width="1.2" height="1.2" fill="#e8b028"/><rect x="391.2" y="336.5" width="1.2" height="1.2" fill="#d85418"/><rect x="412.1" y="324.5" width="1.2" height="1.2" fill="#d85418"/><rect x="395.0" y="353.3" width="1.2" height="1.2" fill="#c03c20"/><rect x="389.2" y="324.2" width="1.2" height="1.2" fill="#e88020"/><rect x="401.1" y="337.2" width="1.2" height="1.2" fill="#d04818"/><rect x="400.2" y="334.1" width="1.2" height="1.2" fill="#e8b028"/><rect x="386.6" y="348.1" width="1.2" height="1.2" fill="#e07018"/><rect x="392.3" y="312.2" width="1.2" height="1.2" fill="#e8d030"/><rect x="392.5" y="334.0" width="1.2" height="1.2" fill="#d04818"/><rect x="411.3" y="325.4" width="1.2" height="1.2" fill="#e8b028"/><rect x="398.4" y="325.9" width="1.2" height="1.2" fill="#c03c20"/><rect x="398.5" y="338.8" width="1.2" height="1.2" fill="#d04818"/><rect x="392.7" y="325.9" width="1.2" height="1.2" fill="#e06018"/><rect x="389.6" y="312.6" width="1.2" height="1.2" fill="#9cc848"/><rect x="396.2" y="329.2" width="1.2" height="1.2" fill="#9cc848"/><rect x="415.8" y="347.3" width="1.2" height="1.2" fill="#d85418"/><rect x="401.1" y="340.2" width="1.2" height="1.2" fill="#d04818"/><rect x="392.8" y="315.2" width="1.2" height="1.2" fill="#e8b028"/><rect x="395.2" y="317.5" width="1.2" height="1.2" fill="#e88020"/><rect x="391.3" y="321.4" width="1.2" height="1.2" fill="#e07018"/><rect x="392.0" y="338.0" width="1.2" height="1.2" fill="#e8b028"/><rect x="387.5" y="329.1" width="1.2" height="1.2" fill="#9cc848"/><rect x="386.8" y="309.2" width="1.2" height="1.2" fill="#c03c20"/><rect x="419.0" y="337.8" width="1.2" height="1.2" fill="#d04818"/><rect x="415.7" y="324.1" width="1.2" height="1.2" fill="#e07018"/><rect x="417.8" y="319.2" width="1.2" height="1.2" fill="#9cc848"/><rect x="392.0" y="326.8" width="1.2" height="1.2" fill="#d04818"/><rect x="386.3" y="332.6" width="1.2" height="1.2" fill="#e8d030"/><rect x="404.2" y="335.2" width="1.2" height="1.2" fill="#d04818"/><rect x="391.1" y="346.6" width="1.2" height="1.2" fill="#e8d030"/><rect x="399.3" y="324.6" width="1.2" height="1.2" fill="#c03c20"/><rect x="409.4" y="333.1" width="1.2" height="1.2" fill="#d85418"/><rect x="406.1" y="324.6" width="1.2" height="1.2" fill="#e88020"/><rect x="406.4" y="325.6" width="1.2" height="1.2" fill="#e8d030"/><rect x="397.8" y="344.2" width="1.2" height="1.2" fill="#e8d030"/><rect x="392.0" y="311.6" width="1.2" height="1.2" fill="#e07018"/><rect x="416.9" y="337.8" width="1.2" height="1.2" fill="#c03c20"/><rect x="417.4" y="318.7" width="1.2" height="1.2" fill="#d04818"/><rect x="419.9" y="314.3" width="1.2" height="1.2" fill="#e8d030"/><rect x="399.4" y="318.5" width="1.2" height="1.2" fill="#e88020"/><rect x="413.0" y="323.8" width="1.2" height="1.2" fill="#d85418"/><rect x="416.0" y="311.4" width="1.2" height="1.2" fill="#e07018"/><rect x="398.2" y="319.1" width="1.2" height="1.2" fill="#e8b028"/><rect x="393.8" y="320.9" width="1.2" height="1.2" fill="#9cc848"/><rect x="412.1" y="318.4" width="1.2" height="1.2" fill="#e8b028"/><rect x="401.1" y="334.8" width="1.2" height="1.2" fill="#d85418"/><rect x="415.1" y="325.6" width="1.2" height="1.2" fill="#d85418"/><rect x="391.0" y="343.3" width="1.2" height="1.2" fill="#e07018"/><rect x="407.0" y="328.3" width="1.2" height="1.2" fill="#e88020"/><rect x="408.2" y="329.1" width="1.2" height="1.2" fill="#e06018"/><rect x="387.3" y="333.5" width="1.2" height="1.2" fill="#c03c20"/><rect x="402.9" y="335.4" width="1.2" height="1.2" fill="#e8b028"/><rect x="404.0" y="328.1" width="1.2" height="1.2" fill="#c03c20"/><rect x="392.7" y="346.4" width="1.2" height="1.2" fill="#c03c20"/><rect x="411.5" y="324.4" width="1.2" height="1.2" fill="#e88020"/><rect x="402.5" y="333.6" width="1.2" height="1.2" fill="#c03c20"/><rect x="397.5" y="338.0" width="1.2" height="1.2" fill="#d04818"/><rect x="411.0" y="353.7" width="1.2" height="1.2" fill="#e8b028"/><rect x="406.5" y="340.0" width="1.2" height="1.2" fill="#e8b028"/><rect x="416.1" y="343.2" width="1.2" height="1.2" fill="#e8b028"/><rect x="419.4" y="328.3" width="1.2" height="1.2" fill="#e8d030"/><rect x="412.2" y="324.9" width="1.2" height="1.2" fill="#c03c20"/><rect x="398.4" y="317.1" width="1.2" height="1.2" fill="#e8b028"/><rect x="410.8" y="334.7" width="1.2" height="1.2" fill="#e07018"/><rect x="411.4" y="323.7" width="1.2" height="1.2" fill="#e88020"/><rect x="396.4" y="342.1" width="1.2" height="1.2" fill="#e88020"/><rect x="404.9" y="330.2" width="1.2" height="1.2" fill="#e07018"/><rect x="405.3" y="325.6" width="1.2" height="1.2" fill="#e06018"/><rect x="407.3" y="341.1" width="1.2" height="1.2" fill="#e88020"/><rect x="388.1" y="333.5" width="1.2" height="1.2" fill="#e07018"/><rect x="417.3" y="332.5" width="1.2" height="1.2" fill="#e07018"/><rect x="394.7" y="330.9" width="1.2" height="1.2" fill="#9cc848"/><rect x="393.1" y="320.8" width="1.2" height="1.2" fill="#d85418"/><rect x="420.3" y="330.7" width="1.2" height="1.2" fill="#e07018"/><rect x="389.9" y="325.8" width="1.2" height="1.2" fill="#e88020"/><rect x="394.4" y="344.7" width="1.2" height="1.2" fill="#d85418"/><rect x="409.6" y="320.2" width="1.2" height="1.2" fill="#e8b028"/><rect x="414.4" y="342.5" width="1.2" height="1.2" fill="#d04818"/><rect x="388.0" y="341.2" width="1.2" height="1.2" fill="#d04818"/><rect x="392.9" y="329.8" width="1.2" height="1.2" fill="#d04818"/><rect x="396.7" y="343.9" width="1.2" height="1.2" fill="#e88020"/><rect x="385.9" y="331.4" width="1.2" height="1.2" fill="#e8d030"/><rect x="389.4" y="350.2" width="1.2" height="1.2" fill="#c03c20"/><rect x="412.6" y="332.0" width="1.2" height="1.2" fill="#e07018"/><rect x="395.5" y="321.3" width="1.2" height="1.2" fill="#e07018"/><rect x="390.1" y="310.2" width="1.2" height="1.2" fill="#e07018"/><rect x="408.6" y="318.5" width="1.2" height="1.2" fill="#e88020"/><rect x="416.5" y="342.3" width="1.2" height="1.2" fill="#9cc848"/><rect x="394.1" y="337.7" width="1.2" height="1.2" fill="#9cc848"/><rect x="392.0" y="316.1" width="1.2" height="1.2" fill="#d04818"/><rect x="390.0" y="333.8" width="1.2" height="1.2" fill="#e88020"/><rect x="394.1" y="312.8" width="1.2" height="1.2" fill="#d04818"/><rect x="417.9" y="315.2" width="1.2" height="1.2" fill="#e06018"/><rect x="410.8" y="337.7" width="1.2" height="1.2" fill="#e8d030"/><rect x="399.1" y="329.8" width="1.2" height="1.2" fill="#c03c20"/><rect x="394.3" y="341.0" width="1.2" height="1.2" fill="#e06018"/><rect x="387.0" y="340.2" width="1.2" height="1.2" fill="#e07018"/><rect x="390.8" y="310.3" width="1.2" height="1.2" fill="#e8d030"/><rect x="411.9" y="347.2" width="1.2" height="1.2" fill="#9cc848"/><rect x="388.2" y="345.7" width="1.2" height="1.2" fill="#e07018"/><rect x="419.9" y="342.0" width="1.2" height="1.2" fill="#d85418"/><rect x="390.3" y="326.8" width="1.2" height="1.2" fill="#e07018"/><rect x="396.3" y="335.2" width="1.2" height="1.2" fill="#e8d030"/><rect x="409.6" y="320.0" width="1.2" height="1.2" fill="#d04818"/><rect x="380.2" y="335.0" width="1.1" height="1.1" fill="#4878c8"/><rect x="379.8" y="332.2" width="1.1" height="1.1" fill="#2c44a8"/><rect x="379.1" y="329.2" width="1.1" height="1.1" fill="#3c6cc0"/><rect x="382.5" y="330.1" width="1.1" height="1.1" fill="#3858b8"/><rect x="431.6" y="334.8" width="1.1" height="1.1" fill="#4878c8"/><rect x="427.5" y="324.9" width="1.1" height="1.1" fill="#4878c8"/><rect x="380.6" y="349.8" width="1.1" height="1.1" fill="#3858b8"/><rect x="379.3" y="331.1" width="1.1" height="1.1" fill="#4878c8"/><rect x="422.5" y="314.6" width="1.1" height="1.1" fill="#3858b8"/><rect x="377.2" y="345.1" width="1.1" height="1.1" fill="#3858b8"/><rect x="380.9" y="324.5" width="1.1" height="1.1" fill="#2c44a8"/><rect x="425.3" y="324.8" width="1.1" height="1.1" fill="#4878c8"/><rect x="428.6" y="317.0" width="1.1" height="1.1" fill="#3858b8"/><rect x="374.7" y="320.7" width="1.1" height="1.1" fill="#3858b8"/><rect x="376.9" y="332.9" width="1.1" height="1.1" fill="#4878c8"/><rect x="383.5" y="338.1" width="1.1" height="1.1" fill="#3858b8"/><rect x="423.0" y="338.1" width="1.1" height="1.1" fill="#3858b8"/><rect x="429.0" y="325.8" width="1.1" height="1.1" fill="#2c44a8"/><rect x="427.0" y="335.5" width="1.1" height="1.1" fill="#3858b8"/><rect x="425.4" y="340.4" width="1.1" height="1.1" fill="#3c6cc0"/><rect x="429.8" y="321.2" width="1.1" height="1.1" fill="#3858b8"/><rect x="429.7" y="348.2" width="1.1" height="1.1" fill="#2c44a8"/><rect x="377.1" y="335.4" width="1.1" height="1.1" fill="#4878c8"/><rect x="378.2" y="322.5" width="1.1" height="1.1" fill="#4878c8"/><rect x="423.3" y="320.2" width="1.1" height="1.1" fill="#2c44a8"/><rect x="426.6" y="329.0" width="1.1" height="1.1" fill="#3c6cc0"/><rect x="426.6" y="315.2" width="1.1" height="1.1" fill="#2c44a8"/><rect x="431.3" y="327.9" width="1.1" height="1.1" fill="#4878c8"/><rect x="382.0" y="320.9" width="1.1" height="1.1" fill="#3858b8"/><rect x="429.6" y="317.5" width="1.1" height="1.1" fill="#2c44a8"/><rect x="427.1" y="331.9" width="1.1" height="1.1" fill="#2c44a8"/><rect x="379.6" y="315.9" width="1.1" height="1.1" fill="#4878c8"/><rect x="382.4" y="345.9" width="1.1" height="1.1" fill="#3858b8"/><rect x="380.3" y="332.3" width="1.1" height="1.1" fill="#3858b8"/><rect x="383.3" y="321.5" width="1.1" height="1.1" fill="#3c6cc0"/><rect x="375.2" y="329.5" width="1.1" height="1.1" fill="#4878c8"/><rect x="382.1" y="343.7" width="1.1" height="1.1" fill="#2c44a8"/><rect x="425.5" y="329.7" width="1.1" height="1.1" fill="#3858b8"/><rect x="427.8" y="335.1" width="1.1" height="1.1" fill="#3c6cc0"/><rect x="427.8" y="321.5" width="1.1" height="1.1" fill="#3858b8"/><rect x="424.3" y="321.2" width="1.1" height="1.1" fill="#2c44a8"/><rect x="375.8" y="345.2" width="1.1" height="1.1" fill="#3c6cc0"/><rect x="376.9" y="317.1" width="1.1" height="1.1" fill="#3c6cc0"/><rect x="376.0" y="321.3" width="1.1" height="1.1" fill="#2c44a8"/><rect x="379.2" y="324.5" width="1.1" height="1.1" fill="#4878c8"/><rect x="376.8" y="343.3" width="1.1" height="1.1" fill="#3858b8"/><rect x="425.7" y="324.3" width="1.1" height="1.1" fill="#3c6cc0"/><rect x="375.2" y="346.7" width="1.1" height="1.1" fill="#3858b8"/><rect x="426.6" y="315.8" width="1.1" height="1.1" fill="#2c44a8"/><rect x="428.1" y="343.6" width="1.1" height="1.1" fill="#4878c8"/><rect x="431.5" y="325.0" width="1.1" height="1.1" fill="#3858b8"/><rect x="380.1" y="341.6" width="1.1" height="1.1" fill="#3c6cc0"/><rect x="381.8" y="318.3" width="1.1" height="1.1" fill="#3858b8"/><rect x="382.6" y="325.3" width="1.1" height="1.1" fill="#4878c8"/><rect x="381.0" y="317.9" width="1.1" height="1.1" fill="#3c6cc0"/><rect x="380.2" y="325.8" width="1.1" height="1.1" fill="#3c6cc0"/><rect x="379.4" y="341.8" width="1.1" height="1.1" fill="#2c44a8"/><rect x="379.5" y="318.1" width="1.1" height="1.1" fill="#4878c8"/><rect x="430.8" y="331.1" width="1.1" height="1.1" fill="#2c44a8"/><rect x="375.8" y="327.3" width="1.1" height="1.1" fill="#3c6cc0"/><rect x="429.6" y="347.4" width="1.1" height="1.1" fill="#3c6cc0"/><rect x="427.9" y="333.1" width="1.1" height="1.1" fill="#3858b8"/><rect x="423.0" y="324.8" width="1.1" height="1.1" fill="#4878c8"/><rect x="377.7" y="320.0" width="1.1" height="1.1" fill="#3c6cc0"/><rect x="423.1" y="333.3" width="1.1" height="1.1" fill="#4878c8"/><rect x="431.1" y="349.1" width="1.1" height="1.1" fill="#3858b8"/><rect x="424.0" y="336.9" width="1.1" height="1.1" fill="#2c44a8"/><rect x="429.7" y="342.4" width="1.1" height="1.1" fill="#2c44a8"/><rect x="431.1" y="333.5" width="1.1" height="1.1" fill="#3858b8"/><rect x="375.4" y="317.1" width="1.1" height="1.1" fill="#3858b8"/><rect x="376.0" y="323.9" width="1.1" height="1.1" fill="#3c6cc0"/><rect x="376.3" y="315.6" width="1.1" height="1.1" fill="#2c44a8"/><rect x="383.1" y="345.8" width="1.1" height="1.1" fill="#4878c8"/><rect x="429.3" y="340.6" width="1.1" height="1.1" fill="#3c6cc0"/><rect x="429.3" y="314.3" width="1.1" height="1.1" fill="#4878c8"/><rect x="382.1" y="334.9" width="1.1" height="1.1" fill="#4878c8"/><rect x="426.8" y="332.6" width="1.1" height="1.1" fill="#2c44a8"/><rect x="378.1" y="346.7" width="1.1" height="1.1" fill="#3c6cc0"/><rect x="423.1" y="341.1" width="1.1" height="1.1" fill="#3c6cc0"/><rect x="430.4" y="322.5" width="1.1" height="1.1" fill="#3c6cc0"/><rect x="425.7" y="341.4" width="1.1" height="1.1" fill="#4878c8"/><rect x="426.0" y="320.4" width="1.1" height="1.1" fill="#2c44a8"/><rect x="428.2" y="328.4" width="1.1" height="1.1" fill="#2c44a8"/><rect x="375.1" y="336.3" width="1.1" height="1.1" fill="#3858b8"/><rect x="426.7" y="315.8" width="1.1" height="1.1" fill="#2c44a8"/><rect x="428.5" y="331.6" width="1.1" height="1.1" fill="#2c44a8"/><rect x="375.8" y="349.7" width="1.1" height="1.1" fill="#3858b8"/><rect x="376.2" y="342.0" width="1.1" height="1.1" fill="#2c44a8"/><rect x="382.3" y="323.2" width="1.1" height="1.1" fill="#4878c8"/><rect x="422.3" y="320.2" width="1.1" height="1.1" fill="#4878c8"/></g>
</g>
<ellipse cx="403.3" cy="331.8" rx="30.8" ry="23.0" fill="none" stroke="#fff" stroke-width="1.5"/>
</g>
</g>
<g id="pc">
<text x="11.5" y="219.5" font-size="15" text-anchor="start" fill="#111">c)</text>
<rect x="42.5" y="222.6" width="228.3" height="168.4" fill="#fff" stroke="#111" stroke-width="1.1"/>
<path d="M46.5,391v-2M46.5,222.6v2M51.8,391v-2M51.8,222.6v2M57.1,391v-2M57.1,222.6v2M62.4,391v-2M62.4,222.6v2M67.7,391v-2M67.7,222.6v2M73.0,391v-2M73.0,222.6v2M78.3,391v-2M78.3,222.6v2M83.6,391v-2M83.6,222.6v2M88.9,391v-2M88.9,222.6v2M94.2,391v-4M94.2,222.6v4M99.5,391v-2M99.5,222.6v2M104.8,391v-2M104.8,222.6v2M110.1,391v-2M110.1,222.6v2M115.4,391v-2M115.4,222.6v2M120.7,391v-2M120.7,222.6v2M126.0,391v-2M126.0,222.6v2M131.3,391v-2M131.3,222.6v2M136.6,391v-2M136.6,222.6v2M141.9,391v-2M141.9,222.6v2M147.2,391v-4M147.2,222.6v4M152.5,391v-2M152.5,222.6v2M157.8,391v-2M157.8,222.6v2M163.1,391v-2M163.1,222.6v2M168.4,391v-2M168.4,222.6v2M173.7,391v-2M173.7,222.6v2M179.0,391v-2M179.0,222.6v2M184.3,391v-2M184.3,222.6v2M189.6,391v-2M189.6,222.6v2M194.9,391v-2M194.9,222.6v2M200.2,391v-4M200.2,222.6v4M205.5,391v-2M205.5,222.6v2M210.8,391v-2M210.8,222.6v2M216.1,391v-2M216.1,222.6v2M221.4,391v-2M221.4,222.6v2M226.7,391v-2M226.7,222.6v2M232.0,391v-2M232.0,222.6v2M237.3,391v-2M237.3,222.6v2M242.6,391v-2M242.6,222.6v2M247.9,391v-2M247.9,222.6v2M253.2,391v-4M253.2,222.6v4M258.5,391v-2M258.5,222.6v2M263.8,391v-2M263.8,222.6v2M269.1,391v-2M269.1,222.6v2M42.5,391.0h4M270.8,391.0h-4M42.5,381.4h2M270.8,381.4h-2M42.5,371.8h2M270.8,371.8h-2M42.5,362.2h2M270.8,362.2h-2M42.5,352.6h2M270.8,352.6h-2M42.5,343.0h4M270.8,343.0h-4M42.5,333.4h2M270.8,333.4h-2M42.5,323.8h2M270.8,323.8h-2M42.5,314.2h2M270.8,314.2h-2M42.5,304.6h2M270.8,304.6h-2M42.5,295.0h4M270.8,295.0h-4M42.5,285.4h2M270.8,285.4h-2M42.5,275.8h2M270.8,275.8h-2M42.5,266.2h2M270.8,266.2h-2M42.5,256.6h2M270.8,256.6h-2M42.5,247.0h4M270.8,247.0h-4M42.5,237.4h2M270.8,237.4h-2M42.5,227.8h2M270.8,227.8h-2" stroke="#111" stroke-width="0.7" fill="none"/>
<text x="39" y="396.8" font-size="14" text-anchor="end" fill="#111">0</text>
<text x="39" y="348.8" font-size="14" text-anchor="end" fill="#111">10</text>
<text x="39" y="300.8" font-size="14" text-anchor="end" fill="#111">20</text>
<text x="39" y="252.8" font-size="14" text-anchor="end" fill="#111">30</text>
<text x="94.2" y="407" font-size="14" text-anchor="middle" fill="#111">0</text>
<text x="147.2" y="407" font-size="14" text-anchor="middle" fill="#111">30</text>
<text x="200.2" y="407" font-size="14" text-anchor="middle" fill="#111">60</text>
<text x="253.2" y="407" font-size="14" text-anchor="middle" fill="#111">90</text>
<text x="14" y="311.3" font-size="14" text-anchor="middle" fill="#111" class="b" transform="rotate(-90 14 311.3)">Relative&#160; power&#160; (a.u.)</text>
<text x="154" y="422" font-size="14" text-anchor="middle" fill="#111" class="b">Far-field&#160; angle&#160; (degree)</text>
<path d="M98.0,387.0C98.7,385.5 100.8,380.9 102.0,378.0C103.2,375.1 104.0,373.1 105.5,369.6C107.0,366.1 108.9,361.4 111.0,357.0C113.1,352.6 115.8,347.7 118.0,343.0C120.2,338.3 122.2,333.0 124.0,329.0C125.8,325.0 127.6,321.8 129.0,319.0C130.4,316.2 131.3,315.5 132.5,312.0C133.7,308.5 134.8,303.8 136.0,298.0C137.2,292.2 138.5,283.3 139.5,277.0C140.5,270.7 141.1,264.0 142.0,260.0C142.9,256.0 143.9,254.8 145.0,253.0C146.1,251.2 147.3,250.5 148.5,249.5C149.7,248.5 150.8,247.8 152.0,247.0C153.2,246.2 154.4,244.3 155.5,244.5C156.6,244.7 157.6,245.8 158.5,248.0C159.4,250.2 160.2,254.0 161.0,258.0C161.8,262.0 162.3,265.8 163.0,272.0C163.7,278.2 164.2,287.2 165.0,295.0C165.8,302.8 166.6,313.0 167.5,319.0C168.4,325.0 169.2,328.2 170.5,331.0C171.8,333.8 173.4,334.2 175.0,335.5C176.6,336.8 178.5,337.8 180.0,338.5C181.5,339.2 182.7,340.2 184.0,340.0C185.3,339.8 186.7,339.0 188.0,337.0C189.3,335.0 190.7,330.8 192.0,328.0C193.3,325.2 194.7,321.2 196.0,320.5C197.3,319.8 198.7,322.2 200.0,323.5C201.3,324.8 202.7,327.5 204.0,328.0C205.3,328.5 206.7,327.3 208.0,326.5C209.3,325.7 210.7,323.8 212.0,323.0C213.3,322.2 214.5,321.6 215.7,322.0C216.9,322.4 217.9,323.9 219.0,325.5C220.1,327.1 221.1,329.6 222.2,331.8C223.3,334.1 224.4,336.8 225.5,339.0C226.6,341.2 227.5,343.1 228.7,345.0C229.9,346.9 231.6,348.0 232.7,350.5C233.8,353.0 234.3,357.3 235.3,360.0C236.3,362.7 237.4,364.7 238.5,366.5C239.6,368.3 240.6,369.5 241.8,371.0C243.1,372.5 244.5,374.2 246.0,375.5C247.5,376.8 249.6,377.8 250.9,379.0C252.2,380.2 253.5,381.9 254.0,382.5" fill="none" stroke="#111" stroke-width="1.2" stroke-dasharray="3.2 2.2"/>
<path d="M94.2,385.2C96.6,385.2 103.9,384.6 108.3,384.8C112.8,384.9 116.3,388.1 120.7,386.2C125.1,384.3 130.2,383.4 134.7,373.2C139.2,363.1 143.4,344.4 147.7,325.2C152.1,306.0 156.5,271.0 160.8,258.0C165.1,245.1 169.0,240.0 173.3,247.5C177.7,255.0 182.5,283.5 186.9,303.2C191.4,322.8 195.7,355.4 200.2,365.6C204.7,375.7 209.5,363.3 213.8,364.1C218.1,364.9 221.9,368.6 226.2,370.4C230.4,372.1 235.0,372.5 239.4,374.7C243.8,376.8 250.3,381.9 252.5,383.3" fill="none" stroke="#111" stroke-width="0.9"/>
<path d="M94.2,388.1C98.6,388.1 111.8,388.7 120.7,388.1C129.6,387.6 138.9,386.9 147.7,384.8C156.6,382.6 165.0,376.4 173.7,375.2C182.4,373.9 191.5,375.5 200.2,377.1C208.9,378.7 217.4,383.3 226.2,384.8C234.9,386.2 248.4,385.6 252.8,385.7" fill="none" stroke="#111" stroke-width="0.8"/>
<path d="M94.2,387.64H253.2" stroke="#111" stroke-width="0.8"/>
<path d="M125.2,373.2H144.2M125.2,371.2v4M144.2,371.2v4" stroke="#111" stroke-width="0.9"/>
<path d="M151.3,258.0H170.3M151.3,256.0v4M170.3,256.0v4" stroke="#111" stroke-width="0.9"/>
<path d="M168.1,390.4H179.3L173.7,381.2Z" fill="#111"/>
<path d="M194.6,390.4H205.8L200.2,381.2Z" fill="#111"/>
<path d="M88.6,390.9H99.8L94.2,381.7Z" fill="#111"/>
<path d="M102.7,390.9H113.9L108.3,381.7Z" fill="#111"/>
<path d="M115.1,390.9H126.3L120.7,381.7Z" fill="#111"/>
<circle cx="147.7" cy="384.8" r="5.3" fill="#fff" stroke="#111" stroke-width="1"/>
<circle cx="173.7" cy="375.2" r="5.3" fill="#fff" stroke="#111" stroke-width="1"/>
<circle cx="200.2" cy="377.1" r="5.3" fill="#fff" stroke="#111" stroke-width="1"/>
<circle cx="226.2" cy="384.8" r="5.3" fill="#fff" stroke="#111" stroke-width="1"/>
<circle cx="252.8" cy="385.7" r="5.3" fill="#fff" stroke="#111" stroke-width="1"/>
<circle cx="94.2" cy="385.2" r="4.7" fill="#111"/>
<circle cx="108.3" cy="384.8" r="4.7" fill="#111"/>
<circle cx="120.7" cy="386.2" r="4.7" fill="#111"/>
<circle cx="134.7" cy="373.2" r="4.7" fill="#111"/>
<circle cx="147.7" cy="325.2" r="4.7" fill="#111"/>
<circle cx="160.8" cy="258.0" r="4.7" fill="#111"/>
<circle cx="173.3" cy="247.5" r="4.7" fill="#111"/>
<circle cx="186.9" cy="303.2" r="4.7" fill="#111"/>
<circle cx="200.2" cy="365.6" r="4.7" fill="#111"/>
<circle cx="213.8" cy="364.1" r="4.7" fill="#111"/>
<circle cx="226.2" cy="370.4" r="4.7" fill="#111"/>
<circle cx="239.4" cy="374.7" r="4.7" fill="#111"/>
<circle cx="252.5" cy="383.3" r="4.7" fill="#111"/>
<ellipse cx="220.6" cy="280" rx="23.3" ry="16.6" fill="none" stroke="#222" stroke-width="0.8"/>
<path d="M219.3,257.3V278.8H249.5M219.3,278.8L248,264.5" stroke="#111" stroke-width="2" fill="none"/>
<text x="250.8" y="276" font-size="16.5" text-anchor="start" fill="#111" class="s">ϕ</text>
<polyline points="49.3,313.6 49.6,306.1 49.8,313.5 50.1,306.4 50.3,314.2 50.6,306.4 50.8,312.7 51.1,309.1 51.3,314.5 51.6,304.4 51.8,314.6 52.1,303.3 52.3,313.1 52.6,305.7 52.8,314.7 53.1,304.7 53.4,314.1 53.6,309.5 53.9,313.6 54.1,304.2 54.4,313.1 54.6,306.5 54.9,313.6 55.1,307.9 55.4,312.2 55.6,304.2 55.9,313.9 56.1,308.2 56.4,314.5 56.6,304.7 56.9,312.6 57.2,307.2 57.4,312.6 57.7,309.7 57.9,312.4 58.2,306.6 58.4,313.7 58.7,309.2 58.9,312.8 59.2,305.9 59.4,312.3 59.7,303.0 59.9,314.4 60.2,309.3 60.4,314.3 60.7,306.1 61.0,314.2 61.2,304.9 61.5,313.1 61.7,308.9 62.0,314.2 62.2,307.9 62.5,312.7 62.7,307.7 63.0,314.2 63.2,307.1 63.5,313.1 63.7,309.0 64.0,314.2 64.2,308.0 64.5,313.9 64.8,306.5 65.0,313.2 65.3,308.1 65.5,313.8 65.8,306.8 66.0,313.5 66.3,306.0 66.5,314.2 66.8,308.7 67.0,312.7 67.3,308.1 67.5,312.9 67.8,303.6 68.0,312.3 68.3,304.0 68.6,313.6 68.8,305.1 69.1,314.1 69.3,305.1 69.6,312.6 69.8,305.8 70.1,314.3 70.3,303.3 70.6,313.3 70.8,304.2 71.1,314.0 71.3,303.7 71.6,314.7 71.8,308.0 72.1,314.5 72.4,308.6 72.6,313.3 72.9,308.8 73.1,312.5 73.4,303.3 73.6,313.0 73.9,305.9 74.1,314.6 74.4,309.6 74.6,312.9 74.9,300.5 75.1,313.5 75.4,305.0 75.6,312.2 75.9,309.2 76.2,312.9 76.4,303.8 76.7,312.9 76.9,304.5 77.2,313.8 77.4,305.2 77.7,312.5 77.9,307.0 78.2,312.5 78.4,306.0 78.7,313.7 78.9,305.9 79.2,314.5 79.4,305.5 79.7,312.5 80.0,305.0 80.2,312.9 80.5,305.9 80.7,314.5 81.0,302.0 81.2,314.1 81.5,305.2 81.7,312.4 82.0,306.1 82.2,314.2 82.5,308.6 82.7,313.6 83.0,303.9 83.2,314.2 83.5,306.9 83.8,312.5 84.0,304.5 84.3,313.5 84.5,304.3 84.8,312.3 85.0,307.9 85.3,314.0 85.5,308.3 85.8,313.5 86.0,307.7 86.3,313.6 86.5,300.1 86.8,313.3 87.0,305.0 87.3,313.6 87.6,306.8 87.8,314.6 88.1,305.6 88.3,313.1 88.6,304.5 88.8,314.2 89.1,302.3 89.3,312.9 89.6,303.0 89.8,313.4 90.1,299.7 90.3,312.4 90.6,309.1 90.8,314.4 91.1,306.8 91.4,313.8 91.6,306.0 91.9,312.3 92.1,301.1 92.4,312.7 92.6,299.0 92.9,312.2 93.1,303.3 93.4,313.9 93.6,301.4 93.9,313.6 94.1,306.1 94.4,314.6 94.6,297.4 94.9,312.7 95.2,308.8 95.4,312.9 95.7,304.2 95.9,313.5 96.2,301.9 96.4,314.0 96.7,305.0 96.9,312.6 97.2,299.8 97.4,312.4 97.7,308.3 97.9,313.4 98.2,306.0 98.4,313.4 98.7,301.9 99.0,313.7 99.2,304.5 99.5,313.0 99.7,309.3 100.0,312.3 100.2,303.7 100.5,314.4 100.7,306.9 101.0,313.5 101.2,307.6 101.5,312.4 101.7,305.9 102.0,314.1 102.2,300.1 102.5,314.4 102.8,304.9 103.0,314.1 103.3,308.4 103.5,313.8 103.8,304.0 104.0,313.1 104.3,305.5 104.5,313.2 104.8,304.1 105.0,312.7 105.3,297.2 105.5,314.2 105.8,300.0 106.0,312.9 106.3,304.5 106.6,313.6 106.8,304.6 107.1,313.7 107.3,303.6 107.6,313.0 107.8,303.8 108.1,314.4 108.3,306.4 108.6,313.4 108.8,305.2 109.1,314.5 109.3,306.4 109.6,313.4 109.8,306.0 110.1,314.2 110.4,308.4 110.6,312.2 110.9,302.5 111.1,312.3 111.4,306.7 111.6,313.9 111.9,306.7 112.1,313.6 112.4,302.7 112.6,312.6 112.9,308.5 113.1,312.9 113.4,307.1 113.6,314.3 113.9,302.7 114.2,312.7 114.4,305.1 114.7,313.1 114.9,307.1 115.2,313.4 115.4,303.3 115.7,314.1 115.9,303.8 116.2,312.8 116.4,304.4 116.7,312.5 116.9,304.0 117.2,312.8 117.4,304.7 117.7,312.9 118.0,309.2 118.2,313.5 118.5,309.6 118.7,313.1 119.0,305.6 119.2,312.3 119.5,305.4 119.7,313.1 120.0,306.0 120.2,313.7 120.5,303.2 120.7,312.9 121.0,304.7 121.2,314.6 121.5,305.7 121.8,314.1 122.0,305.5 122.3,313.8 122.5,309.1 122.8,312.4 123.0,306.1 123.3,312.3 123.5,306.0 123.8,313.1 124.0,301.6 124.3,312.8 124.5,309.4 124.8,314.3 125.0,306.6 125.3,313.5 125.6,301.9 125.8,313.6 126.1,306.3 126.3,313.8 126.6,307.8 126.8,313.3 127.1,307.9 127.3,314.0 127.6,309.6 127.8,314.6 128.1,308.7 128.3,313.7 128.6,303.9 128.8,314.6 129.1,303.3 129.4,314.5 129.6,303.8 129.9,313.5 130.1,303.4 130.4,313.4 130.6,303.6 130.9,313.5 131.1,303.3 131.4,313.2 131.6,309.0 131.9,313.6 132.1,305.8 132.4,314.4 132.6,306.8 132.9,313.6" fill="none" stroke="#111" stroke-width="0.75" stroke-linejoin="round"/>
<path d="M84.4,313.9L84.7,305.7L85.3,293L86.1,286L87,249.2L87.9,286L88.7,293L89.3,305.7L89.6,313.9M96.0,313.9L96.3,305.7L96.9,293L97.7,284L98.6,246.2L99.5,284L100.3,293L100.9,305.7L101.2,313.9" fill="#fff" stroke="#111" stroke-width="1.05" stroke-linejoin="miter"/>
<path d="M64.3,310.7L64.8,296.7L65.3,310.7M75.2,310.7L75.7,289.6L76.2,310.7M109.2,310.7L109.7,284.6L110.2,310.7M120.3,310.7L120.8,283.6L121.3,310.7M55.5,310.7L56.0,299.0L56.5,310.7M92.3,310.7L92.8,294.0L93.3,310.7M81.0,310.7L81.5,298.0L82.0,310.7M103.7,310.7L104.2,296.0L104.7,310.7M114.5,310.7L115.0,299.0L115.5,310.7M126.5,310.7L127.0,300.0L127.5,310.7M90.0,310.7L90.5,299.0L91.0,310.7M94.5,310.7L95.0,297.0L95.5,310.7M101.5,310.7L102.0,299.0L102.5,310.7" fill="none" stroke="#111" stroke-width="1" stroke-linejoin="miter"/>
<path d="M49.1,244.2V314.9M49.1,246.2h2.5M49.1,262.4h2.5M49.1,279.5h2.5M49.1,294.7h2.5M49.1,254.3h1.5M49.1,271h1.5M49.1,287h1.5" stroke="#111" stroke-width="1.1" fill="none"/>
<text x="48" y="239.6" font-size="12.5" text-anchor="start" fill="#111">P (a.u.)</text>
<text x="52.5" y="249.6" font-size="9.5" text-anchor="start" fill="#111">1</text>
<text x="52.5" y="265.8" font-size="9.5" text-anchor="start" fill="#111">0.1</text>
<text x="52.5" y="283" font-size="9.5" text-anchor="start" fill="#111">0.01</text>
<text x="74.8" y="329.6" font-size="11" text-anchor="middle" fill="#111">5.1</text>
<text x="105" y="329.6" font-size="11" text-anchor="middle" fill="#111">5.2</text>
<text x="68" y="345.2" font-size="12.5" text-anchor="start" fill="#111"><tspan class="s" font-size="14">λ</tspan> (µm)</text>
</g>
<g id="pe">
<text x="10.5" y="448.5" font-size="15" text-anchor="start" fill="#111">e)</text>
<rect x="45.8" y="462.6" width="217.59999999999997" height="154.69999999999993" fill="none" stroke="#111" stroke-width="2"/>
<path d="M45.8,617.3v-4M70.4,617.3v-2.5M95.1,617.3v-4M119.7,617.3v-2.5M144.3,617.3v-4M169.0,617.3v-2.5M193.6,617.3v-4M218.2,617.3v-2.5M242.9,617.3v-4M46.3,462.6v4M65.9,462.6v2.5M85.6,462.6v4M105.2,462.6v2.5M124.9,462.6v4M144.6,462.6v2.5M164.2,462.6v4M183.8,462.6v2.5M203.5,462.6v4M223.1,462.6v2.5M242.8,462.6v4M45.8,617.3h4M45.8,608.2h2.5M45.8,599.1h4M45.8,590.0h2.5M45.8,580.9h4M45.8,571.8h2.5M45.8,562.7h4M45.8,553.6h2.5M45.8,544.5h4M45.8,535.4h2.5M45.8,526.3h4M45.8,517.2h2.5M45.8,508.1h4M45.8,499.0h2.5M45.8,489.9h4M45.8,480.8h2.5M45.8,471.7h4M263.4,478.0h-4M263.4,507.3h-4M263.4,536.6h-4M263.4,565.9h-4M263.4,595.2h-4M263.4,463.4h-2.5M263.4,492.7h-2.5M263.4,522.0h-2.5M263.4,551.3h-2.5M263.4,580.6h-2.5M263.4,609.9h-2.5" stroke="#111" stroke-width="1.6" fill="none"/>
<text x="42" y="621.6" font-size="12" text-anchor="end" fill="#111" class="b">0.0</text>
<text x="42" y="603.4" font-size="12" text-anchor="end" fill="#111" class="b">0.4</text>
<text x="42" y="585.2" font-size="12" text-anchor="end" fill="#111" class="b">0.8</text>
<text x="42" y="567.0" font-size="12" text-anchor="end" fill="#111" class="b">1.2</text>
<text x="42" y="548.8" font-size="12" text-anchor="end" fill="#111" class="b">1.6</text>
<text x="42" y="530.6" font-size="12" text-anchor="end" fill="#111" class="b">2.0</text>
<text x="42" y="512.4" font-size="12" text-anchor="end" fill="#111" class="b">2.4</text>
<text x="42" y="494.2" font-size="12" text-anchor="end" fill="#111" class="b">2.8</text>
<text x="42" y="476.0" font-size="12" text-anchor="end" fill="#111" class="b">3.2</text>
<text x="45.8" y="633" font-size="12" text-anchor="middle" fill="#111" class="b">0</text>
<text x="95.1" y="633" font-size="12" text-anchor="middle" fill="#111" class="b">40</text>
<text x="144.3" y="633" font-size="12" text-anchor="middle" fill="#111" class="b">80</text>
<text x="193.6" y="633" font-size="12" text-anchor="middle" fill="#111" class="b">120</text>
<text x="242.9" y="633" font-size="12" text-anchor="middle" fill="#111" class="b">160</text>
<text x="46.3" y="458.5" font-size="12" text-anchor="middle" fill="#111" class="b">0</text>
<text x="85.6" y="458.5" font-size="12" text-anchor="middle" fill="#111" class="b">1</text>
<text x="124.9" y="458.5" font-size="12" text-anchor="middle" fill="#111" class="b">2</text>
<text x="164.2" y="458.5" font-size="12" text-anchor="middle" fill="#111" class="b">3</text>
<text x="203.5" y="458.5" font-size="12" text-anchor="middle" fill="#111" class="b">4</text>
<text x="242.8" y="458.5" font-size="12" text-anchor="middle" fill="#111" class="b">5</text>
<text x="158.5" y="444" font-size="12.5" text-anchor="middle" fill="#111" class="b">Current (mA)</text>
<text x="79.3" y="645.5" font-size="12" text-anchor="start" fill="#111" class="b">Current density <tspan font-size="9.5">(</tspan>A/cm<tspan dy="-3.5" font-size="12">2</tspan><tspan dy="3.5" font-size="9.5">)</tspan></text>
<text x="18" y="547" font-size="12.5" text-anchor="middle" fill="#111" class="b" transform="rotate(-90 18 547)">Voltage (V)</text>
<text x="275.5" y="543" font-size="13" text-anchor="middle" fill="#111" class="b" transform="rotate(-90 275.5 543)" textLength="92.5" lengthAdjust="spacingAndGlyphs">Intensity (a.u.)</text>
<path d="M203,462.6V617.3" stroke="#000" stroke-width="1.25" stroke-dasharray="2.8 1.9"/>
<path d="M129.5,536.5C131.2,535.8 135.8,534.1 140.0,532.5C144.2,530.9 150.0,528.9 155.0,527.0C160.0,525.1 165.0,523.1 170.0,521.0C175.0,518.9 180.8,516.3 185.0,514.5C189.2,512.7 191.9,511.4 195.0,510.0C198.1,508.6 200.5,508.0 203.8,506.4C207.1,504.8 211.5,502.4 215.0,500.5C218.5,498.6 222.0,496.8 225.0,495.0C228.0,493.2 230.5,491.8 233.0,490.0C235.5,488.2 238.0,486.2 240.0,484.5C242.0,482.8 243.6,481.4 245.0,480.0C246.4,478.6 247.5,477.3 248.5,476.0C249.5,474.7 250.6,472.7 251.0,472.0" fill="none" stroke="#111" stroke-width="1.7"/>
<polyline points="164.8,613.7 171.0,609.0 176.0,613.7 183.0,610.0 188.5,613.7 196.0,615.5 203.8,613.7 210.0,583.8 215.2,560.8 219.6,539.0 223.8,522.7 228.5,508.0 232.5,483.6 235.5,479.0 239.2,489.8 242.3,492.5 244.8,503.3 247.5,518.7 248.5,552.0 250.0,580.8 251.0,616.5" fill="none" stroke="#ee5a6a" stroke-width="0.7"/>
<circle cx="164.8" cy="613.7" r="1.35" fill="#d8203a"/>
<circle cx="171" cy="609" r="1.35" fill="#d8203a"/>
<circle cx="176" cy="613.7" r="1.35" fill="#d8203a"/>
<circle cx="183" cy="610" r="1.35" fill="#d8203a"/>
<circle cx="188.5" cy="613.7" r="1.35" fill="#d8203a"/>
<circle cx="196" cy="615.5" r="1.35" fill="#d8203a"/>
<circle cx="203.8" cy="613.7" r="1.35" fill="#d8203a"/>
<circle cx="210" cy="583.8" r="1.35" fill="#d8203a"/>
<circle cx="215.2" cy="560.8" r="1.35" fill="#d8203a"/>
<circle cx="219.6" cy="539" r="1.35" fill="#d8203a"/>
<circle cx="223.8" cy="522.7" r="1.35" fill="#d8203a"/>
<circle cx="228.5" cy="508" r="1.35" fill="#d8203a"/>
<circle cx="232.5" cy="483.6" r="1.35" fill="#d8203a"/>
<circle cx="235.5" cy="479" r="1.35" fill="#d8203a"/>
<circle cx="239.2" cy="489.8" r="1.35" fill="#d8203a"/>
<circle cx="242.3" cy="492.5" r="1.35" fill="#d8203a"/>
<circle cx="244.8" cy="503.3" r="1.35" fill="#d8203a"/>
<circle cx="247.5" cy="518.7" r="1.35" fill="#d8203a"/>
<circle cx="248.5" cy="552" r="1.35" fill="#d8203a"/>
<circle cx="250" cy="580.8" r="1.35" fill="#d8203a"/>
<text x="176.6" y="587.8" font-size="22" text-anchor="start" fill="#111" class="s">Jth</text>
<path d="M191.5,588L199.6,610.5" stroke="#111" stroke-width="0.9"/><path d="M200.3,612.5L196.3,606.8L201,605.2Z" fill="#111"/>
<rect x="57.4" y="489" width="71.8" height="68" fill="#fff" stroke="#111" stroke-width="1.1"/>
<path d="M63.8,557v-2.5M78.3,557v-2.5M92.8,557v-2.5M107.3,557v-2.5M121.8,557v-2.5M71.0,557v-1.5M85.5,557v-1.5M100.0,557v-1.5M114.5,557v-1.5M69.5,489v2.5M93.4,489v2.5M117.7,489v2.5M81.4,489v1.5M105.5,489v1.5M57.4,495.0h2M57.4,506.2h2M57.4,517.4h2M57.4,528.6h2M57.4,539.8h2M57.4,551.0h2" stroke="#111" stroke-width="0.8" fill="none"/>
<polyline points="57.4,550.3 70.0,550.2 80.0,550.0 85.5,549.5 87.8,548.0 88.9,543.0 89.6,525.0 90.3,498.5 90.9,497.5 91.5,505.0 92.2,530.0 92.9,545.0 94.0,548.5 96.0,549.7 102.0,550.2 115.0,550.3 129.2,550.3" fill="none" stroke="#333" stroke-width="0.9" stroke-linejoin="round"/>
<text x="93.2" y="474.8" font-size="8" text-anchor="middle" fill="#222" class="b">Frequency (THz)</text>
<text x="69.5" y="486.8" font-size="7.6" text-anchor="middle" fill="#222" class="b">2.6</text>
<text x="93.4" y="486.8" font-size="7.6" text-anchor="middle" fill="#222" class="b">2.7</text>
<text x="117.7" y="486.8" font-size="7.6" text-anchor="middle" fill="#222" class="b">2.8</text>
<text x="63.8" y="566.5" font-size="7.6" text-anchor="middle" fill="#222" class="b">86</text>
<text x="78.3" y="566.5" font-size="7.6" text-anchor="middle" fill="#222" class="b">88</text>
<text x="92.8" y="566.5" font-size="7.6" text-anchor="middle" fill="#222" class="b">90</text>
<text x="107.3" y="566.5" font-size="7.6" text-anchor="middle" fill="#222" class="b">92</text>
<text x="121.8" y="566.5" font-size="7.6" text-anchor="middle" fill="#222" class="b">94</text>
<text x="93.2" y="578.5" font-size="8" text-anchor="middle" fill="#222" class="b">Wavenumber (cm<tspan dy="-2.5" font-size="5.5">-1</tspan><tspan dy="2.5">)</tspan></text>
</g>
<g id="pf">
<text x="280.4" y="463" font-size="15" text-anchor="start" fill="#111">f)</text>
<defs>
<clipPath id="fc"><rect x="290.3" y="475.8" width="223.2" height="121.99999999999994"/></clipPath>
<linearGradient id="fbg" x1="0" y1="0" x2="0" y2="1"><stop offset="0" stop-color="#646464"/><stop offset="0.4" stop-color="#6c6c6c"/><stop offset="0.7" stop-color="#7c7c7c"/><stop offset="0.86" stop-color="#888"/><stop offset="1" stop-color="#888"/></linearGradient>
<filter id="fbl" x="-5%" y="-10%" width="110%" height="120%"><feGaussianBlur stdDeviation="0.6"/></filter>
<filter id="fnz" x="0" y="0" width="100%" height="100%"><feTurbulence type="fractalNoise" baseFrequency="0.8" numOctaves="2" seed="4"/><feColorMatrix type="matrix" values="0 0 0 0 0.5  0 0 0 0 0.5  0 0 0 0 0.5  0.9 0 0 0 -0.25"/></filter>
<linearGradient id="fnm" x1="0" y1="0" x2="0" y2="1"><stop offset="0" stop-color="#fff" stop-opacity="0.15"/><stop offset="0.6" stop-color="#fff" stop-opacity="0.4"/><stop offset="1" stop-color="#fff" stop-opacity="1"/></linearGradient>
<mask id="fm"><rect x="290.3" y="475.8" width="223.2" height="105" fill="url(#fnm)"/></mask>
</defs>
<g clip-path="url(#fc)">
<rect x="290.3" y="475.8" width="223.2" height="121.99999999999994" fill="url(#fbg)"/>
<g filter="url(#fbl)">
<g transform="rotate(-3.6 407.8 489.6)"><ellipse cx="407.8" cy="490.40000000000003" rx="52.1" ry="10.4" fill="#3a3a3a" opacity="0.5"/><ellipse cx="407.8" cy="489.6" rx="51.6" ry="9.6" fill="#1e1e1e"/><ellipse cx="407.8" cy="486.0" rx="50.4" ry="6.0" fill="#515151"/><path d="M357.4,486.0A50.4,6.0 0 0 0 458.20000000000005,486.0" fill="none" stroke="#6e6e6e" stroke-width="0.8" opacity="0.7"/></g>
<g transform="rotate(-2.46 402.3 528.2)"><ellipse cx="402.3" cy="529.0" rx="108.7" ry="18.8" fill="#3a3a3a" opacity="0.5"/><ellipse cx="402.3" cy="528.2" rx="108.2" ry="18.0" fill="#1f1f1f"/><ellipse cx="402.3" cy="524.1" rx="107.0" ry="13.9" fill="#585858"/><path d="M295.3,524.1A107.0,13.9 0 0 0 509.3,524.1" fill="none" stroke="#7a7a7a" stroke-width="0.8" opacity="0.7"/></g>
<g transform="rotate(-3.2 394.6 568.2)"><ellipse cx="394.6" cy="569.0" rx="37.1" ry="9.4" fill="#3a3a3a" opacity="0.5"/><ellipse cx="394.6" cy="568.2" rx="36.6" ry="8.6" fill="#222"/><ellipse cx="394.6" cy="564.6" rx="35.4" ry="5.0" fill="#545454"/><path d="M359.2,564.6A35.4,5.0 0 0 0 430.00000000000006,564.6" fill="none" stroke="#787878" stroke-width="0.8" opacity="0.7"/></g>
</g>
<rect x="290.3" y="475.8" width="223.2" height="105" filter="url(#fnz)" opacity="0.45" mask="url(#fm)"/>
<path d="M357,570v10M361,572v8M424.5,563v17M432,562v18" stroke="#333" stroke-width="0.7" stroke-dasharray="1.3 1.3" opacity="0.7"/>
<rect x="290.3" y="580.5" width="223.2" height="18" fill="#171717"/>
<path d="M394,585H454.7M394,581.8v6.6M454.7,581.8v6.6" stroke="#f0f0f0" stroke-width="0.9"/>
<text x="292.3" y="587.5" font-size="7" text-anchor="start" fill="#f4f4f4" textLength="68" lengthAdjust="spacingAndGlyphs" stroke="#f4f4f4" stroke-width="0.2">Acc.V&#160;&#160; Spot Magn</text>
<text x="375" y="587.5" font-size="7" text-anchor="start" fill="#f4f4f4" stroke="#f4f4f4" stroke-width="0.2">WD</text>
<text x="464.3" y="587.5" font-size="7.3" text-anchor="start" fill="#f4f4f4" stroke="#f4f4f4" stroke-width="0.2">50 µm</text>
<text x="292.3" y="596.5" font-size="7" text-anchor="start" fill="#f4f4f4" textLength="66" lengthAdjust="spacingAndGlyphs" stroke="#f4f4f4" stroke-width="0.2">30.0 kV 2.0&#160;&#160; 463x</text>
<text x="375" y="596.5" font-size="7" text-anchor="start" fill="#f4f4f4" textLength="58.5" lengthAdjust="spacingAndGlyphs" stroke="#f4f4f4" stroke-width="0.2">18.0&#160; THz uDisks</text>
</g>
</g>
</svg>
</body></html>
